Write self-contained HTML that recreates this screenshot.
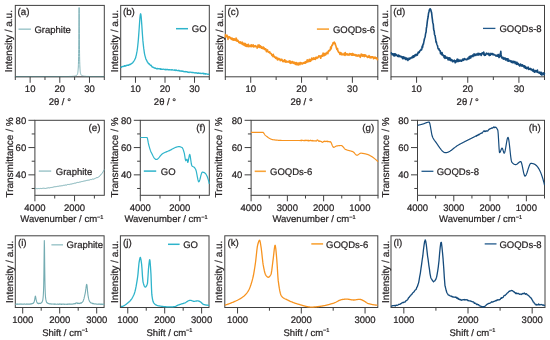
<!DOCTYPE html>
<html><head><meta charset="utf-8"><style>
html,body{margin:0;padding:0;background:#fff;}
svg{display:block;}
text{font-family:"Liberation Sans",sans-serif;fill:#231f20;stroke:#231f20;stroke-width:0.22px;text-rendering:geometricPrecision;}
svg{will-change:transform;}
</style></head><body>
<svg width="550" height="340" viewBox="0 0 550 340">
<rect width="550" height="340" fill="#fff"/>
<rect x="15.30" y="5.40" width="89.00" height="71.40" fill="none" stroke="#404040" stroke-width="1"/>
<line x1="30.13" y1="76.80" x2="30.13" y2="82.80" stroke="#404040" stroke-width="1" stroke-opacity="1"/>
<text transform="translate(30.13 91.90) scale(1.0 1.0)" text-anchor="middle" font-size="9.500" >10</text>
<line x1="59.80" y1="76.80" x2="59.80" y2="82.80" stroke="#404040" stroke-width="1" stroke-opacity="1"/>
<text transform="translate(59.80 91.90) scale(1.0 1.0)" text-anchor="middle" font-size="9.500" >20</text>
<line x1="89.47" y1="76.80" x2="89.47" y2="82.80" stroke="#404040" stroke-width="1" stroke-opacity="1"/>
<text transform="translate(89.47 91.90) scale(1.0 1.0)" text-anchor="middle" font-size="9.500" >30</text>
<line x1="15.30" y1="76.80" x2="15.30" y2="80.00" stroke="#404040" stroke-width="1" stroke-opacity="1"/>
<line x1="44.97" y1="76.80" x2="44.97" y2="80.00" stroke="#404040" stroke-width="1" stroke-opacity="1"/>
<line x1="74.63" y1="76.80" x2="74.63" y2="80.00" stroke="#404040" stroke-width="1" stroke-opacity="1"/>
<line x1="104.30" y1="76.80" x2="104.30" y2="80.00" stroke="#404040" stroke-width="1" stroke-opacity="1"/>
<text transform="translate(59.80 104.50) scale(1.0 1.0)" text-anchor="middle" font-size="9.500" >2θ / °</text>
<rect x="120.70" y="5.40" width="88.60" height="71.40" fill="none" stroke="#404040" stroke-width="1"/>
<line x1="135.47" y1="76.80" x2="135.47" y2="82.80" stroke="#404040" stroke-width="1" stroke-opacity="1"/>
<text transform="translate(135.47 91.90) scale(1.0 1.0)" text-anchor="middle" font-size="9.500" >10</text>
<line x1="165.00" y1="76.80" x2="165.00" y2="82.80" stroke="#404040" stroke-width="1" stroke-opacity="1"/>
<text transform="translate(165.00 91.90) scale(1.0 1.0)" text-anchor="middle" font-size="9.500" >20</text>
<line x1="194.53" y1="76.80" x2="194.53" y2="82.80" stroke="#404040" stroke-width="1" stroke-opacity="1"/>
<text transform="translate(194.53 91.90) scale(1.0 1.0)" text-anchor="middle" font-size="9.500" >30</text>
<line x1="120.70" y1="76.80" x2="120.70" y2="80.00" stroke="#404040" stroke-width="1" stroke-opacity="1"/>
<line x1="150.23" y1="76.80" x2="150.23" y2="80.00" stroke="#404040" stroke-width="1" stroke-opacity="1"/>
<line x1="179.77" y1="76.80" x2="179.77" y2="80.00" stroke="#404040" stroke-width="1" stroke-opacity="1"/>
<line x1="209.30" y1="76.80" x2="209.30" y2="80.00" stroke="#404040" stroke-width="1" stroke-opacity="1"/>
<text transform="translate(165.00 104.50) scale(1.0 1.0)" text-anchor="middle" font-size="9.500" >2θ / °</text>
<rect x="225.30" y="5.40" width="152.50" height="71.40" fill="none" stroke="#404040" stroke-width="1"/>
<line x1="250.72" y1="76.80" x2="250.72" y2="82.80" stroke="#404040" stroke-width="1" stroke-opacity="1"/>
<text transform="translate(250.72 91.90) scale(1.0 1.0)" text-anchor="middle" font-size="9.500" >10</text>
<line x1="301.55" y1="76.80" x2="301.55" y2="82.80" stroke="#404040" stroke-width="1" stroke-opacity="1"/>
<text transform="translate(301.55 91.90) scale(1.0 1.0)" text-anchor="middle" font-size="9.500" >20</text>
<line x1="352.38" y1="76.80" x2="352.38" y2="82.80" stroke="#404040" stroke-width="1" stroke-opacity="1"/>
<text transform="translate(352.38 91.90) scale(1.0 1.0)" text-anchor="middle" font-size="9.500" >30</text>
<line x1="225.30" y1="76.80" x2="225.30" y2="80.00" stroke="#404040" stroke-width="1" stroke-opacity="1"/>
<line x1="276.13" y1="76.80" x2="276.13" y2="80.00" stroke="#404040" stroke-width="1" stroke-opacity="1"/>
<line x1="326.97" y1="76.80" x2="326.97" y2="80.00" stroke="#404040" stroke-width="1" stroke-opacity="1"/>
<line x1="377.80" y1="76.80" x2="377.80" y2="80.00" stroke="#404040" stroke-width="1" stroke-opacity="1"/>
<text transform="translate(301.55 104.50) scale(1.0 1.0)" text-anchor="middle" font-size="9.500" >2θ / °</text>
<rect x="391.00" y="5.40" width="153.50" height="71.40" fill="none" stroke="#404040" stroke-width="1"/>
<line x1="416.58" y1="76.80" x2="416.58" y2="82.80" stroke="#404040" stroke-width="1" stroke-opacity="1"/>
<text transform="translate(416.58 91.90) scale(1.0 1.0)" text-anchor="middle" font-size="9.500" >10</text>
<line x1="467.75" y1="76.80" x2="467.75" y2="82.80" stroke="#404040" stroke-width="1" stroke-opacity="1"/>
<text transform="translate(467.75 91.90) scale(1.0 1.0)" text-anchor="middle" font-size="9.500" >20</text>
<line x1="518.92" y1="76.80" x2="518.92" y2="82.80" stroke="#404040" stroke-width="1" stroke-opacity="1"/>
<text transform="translate(518.92 91.90) scale(1.0 1.0)" text-anchor="middle" font-size="9.500" >30</text>
<line x1="391.00" y1="76.80" x2="391.00" y2="80.00" stroke="#404040" stroke-width="1" stroke-opacity="1"/>
<line x1="442.17" y1="76.80" x2="442.17" y2="80.00" stroke="#404040" stroke-width="1" stroke-opacity="1"/>
<line x1="493.33" y1="76.80" x2="493.33" y2="80.00" stroke="#404040" stroke-width="1" stroke-opacity="1"/>
<line x1="544.50" y1="76.80" x2="544.50" y2="80.00" stroke="#404040" stroke-width="1" stroke-opacity="1"/>
<text transform="translate(467.75 104.50) scale(1.0 1.0)" text-anchor="middle" font-size="9.500" >2θ / °</text>
<text transform="translate(12.00 41.20) rotate(-90) scale(1.0 1)" text-anchor="middle" font-size="10">Intensity / a.u.</text>
<text transform="translate(118.00 41.20) rotate(-90) scale(1.0 1)" text-anchor="middle" font-size="10">Intensity / a.u.</text>
<text transform="translate(222.80 41.20) rotate(-90) scale(1.0 1)" text-anchor="middle" font-size="10">Intensity / a.u.</text>
<text transform="translate(388.30 41.20) rotate(-90) scale(1.0 1)" text-anchor="middle" font-size="10">Intensity / a.u.</text>
<text transform="translate(17.50 14.70) scale(1.0 1.0)" text-anchor="start" font-size="9.800" >(a)</text>
<text transform="translate(122.90 14.70) scale(1.0 1.0)" text-anchor="start" font-size="9.800" >(b)</text>
<text transform="translate(227.50 14.70) scale(1.0 1.0)" text-anchor="start" font-size="9.800" >(c)</text>
<text transform="translate(393.20 14.70) scale(1.0 1.0)" text-anchor="start" font-size="9.800" >(d)</text>
<path d="M15.30,76.50 L15.35,76.50 L15.40,76.50 L15.45,76.50 L15.50,76.50 L15.55,76.50 L15.60,76.50 L15.65,76.50 L15.70,76.50 L15.75,76.50 L15.80,76.50 L15.85,76.50 L15.90,76.50 L15.95,76.50 L16.00,76.50 L16.05,76.50 L16.10,76.50 L16.15,76.50 L16.20,76.50 L16.25,76.50 L16.30,76.50 L16.35,76.50 L16.40,76.50 L16.45,76.50 L16.50,76.50 L16.55,76.50 L16.60,76.50 L16.65,76.50 L16.70,76.50 L16.75,76.50 L16.80,76.50 L16.85,76.50 L16.90,76.50 L16.95,76.50 L17.00,76.50 L17.05,76.50 L17.10,76.50 L17.15,76.50 L17.20,76.50 L17.25,76.50 L17.30,76.50 L17.35,76.50 L17.40,76.50 L17.45,76.50 L17.50,76.50 L17.55,76.50 L17.60,76.50 L17.65,76.50 L17.70,76.50 L17.75,76.50 L17.80,76.50 L17.85,76.50 L17.90,76.50 L17.95,76.50 L18.00,76.50 L18.05,76.50 L18.10,76.50 L18.15,76.50 L18.20,76.50 L18.25,76.50 L18.30,76.50 L18.35,76.50 L18.40,76.50 L18.45,76.50 L18.50,76.50 L18.55,76.50 L18.60,76.50 L18.65,76.50 L18.70,76.50 L18.75,76.50 L18.80,76.50 L18.85,76.50 L18.90,76.50 L18.95,76.50 L19.00,76.50 L19.05,76.50 L19.10,76.50 L19.15,76.50 L19.20,76.50 L19.25,76.50 L19.30,76.50 L19.35,76.50 L19.40,76.50 L19.45,76.50 L19.50,76.50 L19.55,76.50 L19.60,76.50 L19.65,76.50 L19.70,76.50 L19.75,76.50 L19.80,76.50 L19.85,76.50 L19.90,76.50 L19.95,76.50 L20.00,76.50 L20.05,76.50 L20.10,76.50 L20.15,76.50 L20.20,76.50 L20.25,76.50 L20.30,76.50 L20.35,76.50 L20.40,76.50 L20.45,76.50 L20.50,76.50 L20.55,76.50 L20.60,76.50 L20.65,76.50 L20.70,76.50 L20.75,76.50 L20.80,76.50 L20.85,76.50 L20.90,76.50 L20.95,76.50 L21.00,76.50 L21.05,76.50 L21.10,76.50 L21.15,76.50 L21.20,76.50 L21.25,76.50 L21.30,76.50 L21.35,76.50 L21.40,76.50 L21.45,76.50 L21.50,76.50 L21.55,76.50 L21.60,76.50 L21.65,76.50 L21.70,76.50 L21.75,76.50 L21.80,76.50 L21.85,76.50 L21.90,76.50 L21.95,76.50 L22.00,76.50 L22.05,76.50 L22.10,76.50 L22.15,76.50 L22.20,76.50 L22.25,76.50 L22.30,76.50 L22.35,76.50 L22.40,76.50 L22.45,76.50 L22.50,76.50 L22.55,76.50 L22.60,76.50 L22.65,76.50 L22.70,76.50 L22.75,76.50 L22.80,76.50 L22.85,76.50 L22.90,76.50 L22.95,76.50 L23.00,76.50 L23.05,76.50 L23.10,76.50 L23.15,76.50 L23.20,76.50 L23.25,76.50 L23.30,76.50 L23.35,76.50 L23.40,76.50 L23.45,76.50 L23.50,76.50 L23.55,76.50 L23.60,76.50 L23.65,76.50 L23.70,76.50 L23.75,76.50 L23.80,76.50 L23.85,76.50 L23.90,76.50 L23.95,76.50 L24.00,76.50 L24.05,76.50 L24.10,76.50 L24.15,76.50 L24.20,76.50 L24.25,76.50 L24.30,76.50 L24.35,76.50 L24.40,76.50 L24.45,76.50 L24.50,76.50 L24.55,76.50 L24.60,76.50 L24.65,76.50 L24.70,76.50 L24.75,76.50 L24.80,76.50 L24.85,76.50 L24.90,76.50 L24.95,76.50 L25.00,76.50 L25.05,76.50 L25.10,76.50 L25.15,76.50 L25.20,76.50 L25.25,76.50 L25.30,76.50 L25.35,76.50 L25.40,76.50 L25.45,76.50 L25.50,76.50 L25.55,76.50 L25.60,76.50 L25.65,76.50 L25.70,76.50 L25.75,76.50 L25.80,76.50 L25.85,76.50 L25.90,76.50 L25.95,76.50 L26.00,76.50 L26.05,76.50 L26.10,76.50 L26.15,76.50 L26.20,76.50 L26.25,76.50 L26.30,76.50 L26.35,76.50 L26.40,76.50 L26.45,76.50 L26.50,76.50 L26.55,76.50 L26.60,76.50 L26.65,76.50 L26.70,76.50 L26.75,76.50 L26.80,76.50 L26.85,76.50 L26.90,76.50 L26.95,76.50 L27.00,76.50 L27.05,76.50 L27.10,76.50 L27.15,76.50 L27.20,76.50 L27.25,76.50 L27.30,76.50 L27.35,76.50 L27.40,76.50 L27.45,76.50 L27.50,76.50 L27.55,76.50 L27.60,76.50 L27.65,76.50 L27.70,76.50 L27.75,76.50 L27.80,76.50 L27.85,76.50 L27.90,76.50 L27.95,76.50 L28.00,76.50 L28.05,76.50 L28.10,76.50 L28.15,76.50 L28.20,76.50 L28.25,76.50 L28.30,76.50 L28.35,76.50 L28.40,76.50 L28.45,76.50 L28.50,76.50 L28.55,76.50 L28.60,76.50 L28.65,76.50 L28.70,76.50 L28.75,76.50 L28.80,76.50 L28.85,76.50 L28.90,76.50 L28.95,76.50 L29.00,76.50 L29.05,76.50 L29.10,76.50 L29.15,76.50 L29.20,76.50 L29.25,76.50 L29.30,76.50 L29.35,76.50 L29.40,76.50 L29.45,76.50 L29.50,76.50 L29.55,76.50 L29.60,76.50 L29.65,76.50 L29.70,76.50 L29.75,76.50 L29.80,76.50 L29.85,76.50 L29.90,76.50 L29.95,76.50 L30.00,76.50 L30.05,76.50 L30.10,76.50 L30.15,76.50 L30.20,76.50 L30.25,76.50 L30.30,76.50 L30.35,76.50 L30.40,76.50 L30.45,76.50 L30.50,76.50 L30.55,76.50 L30.60,76.50 L30.65,76.50 L30.70,76.50 L30.75,76.50 L30.80,76.50 L30.85,76.50 L30.90,76.50 L30.95,76.50 L31.00,76.50 L31.05,76.50 L31.10,76.50 L31.15,76.50 L31.20,76.50 L31.25,76.50 L31.30,76.50 L31.35,76.50 L31.40,76.50 L31.45,76.50 L31.50,76.50 L31.55,76.50 L31.60,76.50 L31.65,76.50 L31.70,76.50 L31.75,76.50 L31.80,76.50 L31.85,76.50 L31.90,76.50 L31.95,76.50 L32.00,76.50 L32.05,76.50 L32.10,76.50 L32.15,76.50 L32.20,76.50 L32.25,76.50 L32.30,76.50 L32.35,76.50 L32.40,76.50 L32.45,76.50 L32.50,76.50 L32.55,76.50 L32.60,76.50 L32.65,76.50 L32.70,76.50 L32.75,76.50 L32.80,76.50 L32.85,76.50 L32.90,76.50 L32.95,76.50 L33.00,76.50 L33.05,76.50 L33.10,76.50 L33.15,76.50 L33.20,76.50 L33.25,76.50 L33.30,76.50 L33.35,76.50 L33.40,76.50 L33.45,76.50 L33.50,76.50 L33.55,76.50 L33.60,76.50 L33.65,76.50 L33.70,76.50 L33.75,76.50 L33.80,76.50 L33.85,76.50 L33.90,76.50 L33.95,76.50 L34.00,76.50 L34.05,76.50 L34.10,76.50 L34.15,76.50 L34.20,76.50 L34.25,76.50 L34.30,76.50 L34.35,76.50 L34.40,76.50 L34.45,76.50 L34.50,76.50 L34.55,76.50 L34.60,76.50 L34.65,76.50 L34.70,76.50 L34.75,76.50 L34.80,76.50 L34.85,76.50 L34.90,76.50 L34.95,76.50 L35.00,76.50 L35.05,76.50 L35.10,76.50 L35.15,76.50 L35.20,76.50 L35.25,76.50 L35.30,76.50 L35.35,76.50 L35.40,76.50 L35.45,76.50 L35.50,76.50 L35.55,76.50 L35.60,76.50 L35.65,76.50 L35.70,76.50 L35.75,76.50 L35.80,76.50 L35.85,76.50 L35.90,76.50 L35.95,76.50 L36.00,76.50 L36.05,76.50 L36.10,76.50 L36.15,76.50 L36.20,76.50 L36.25,76.50 L36.30,76.50 L36.35,76.50 L36.40,76.50 L36.45,76.50 L36.50,76.50 L36.55,76.50 L36.60,76.50 L36.65,76.50 L36.70,76.50 L36.75,76.50 L36.80,76.50 L36.85,76.50 L36.90,76.50 L36.95,76.50 L37.00,76.50 L37.05,76.50 L37.10,76.50 L37.15,76.50 L37.20,76.50 L37.25,76.50 L37.30,76.50 L37.35,76.50 L37.40,76.50 L37.45,76.50 L37.50,76.50 L37.55,76.50 L37.60,76.50 L37.65,76.50 L37.70,76.50 L37.75,76.50 L37.80,76.50 L37.85,76.50 L37.90,76.50 L37.95,76.50 L38.00,76.50 L38.05,76.50 L38.10,76.50 L38.15,76.50 L38.20,76.50 L38.25,76.50 L38.30,76.50 L38.35,76.50 L38.40,76.50 L38.45,76.50 L38.50,76.50 L38.55,76.50 L38.60,76.50 L38.65,76.50 L38.70,76.50 L38.75,76.50 L38.80,76.50 L38.85,76.50 L38.90,76.50 L38.95,76.50 L39.00,76.50 L39.05,76.50 L39.10,76.50 L39.15,76.50 L39.20,76.50 L39.25,76.50 L39.30,76.50 L39.35,76.50 L39.40,76.50 L39.45,76.50 L39.50,76.50 L39.55,76.50 L39.60,76.50 L39.65,76.50 L39.70,76.50 L39.75,76.50 L39.80,76.50 L39.85,76.50 L39.90,76.50 L39.95,76.50 L40.00,76.50 L40.05,76.50 L40.10,76.50 L40.15,76.50 L40.20,76.50 L40.25,76.50 L40.30,76.50 L40.35,76.50 L40.40,76.50 L40.45,76.50 L40.50,76.50 L40.55,76.50 L40.60,76.50 L40.65,76.50 L40.70,76.50 L40.75,76.50 L40.80,76.50 L40.85,76.50 L40.90,76.50 L40.95,76.50 L41.00,76.50 L41.05,76.50 L41.10,76.50 L41.15,76.50 L41.20,76.50 L41.25,76.50 L41.30,76.50 L41.35,76.50 L41.40,76.50 L41.45,76.50 L41.50,76.50 L41.55,76.49 L41.60,76.49 L41.65,76.49 L41.70,76.49 L41.75,76.49 L41.80,76.49 L41.85,76.49 L41.90,76.49 L41.95,76.49 L42.00,76.49 L42.05,76.49 L42.10,76.49 L42.15,76.49 L42.20,76.49 L42.25,76.49 L42.30,76.49 L42.35,76.49 L42.40,76.49 L42.45,76.49 L42.50,76.49 L42.55,76.49 L42.60,76.49 L42.65,76.49 L42.70,76.49 L42.75,76.49 L42.80,76.49 L42.85,76.49 L42.90,76.49 L42.95,76.49 L43.00,76.49 L43.05,76.49 L43.10,76.49 L43.15,76.49 L43.20,76.49 L43.25,76.49 L43.30,76.49 L43.35,76.49 L43.40,76.49 L43.45,76.49 L43.50,76.49 L43.55,76.49 L43.60,76.49 L43.65,76.49 L43.70,76.49 L43.75,76.49 L43.80,76.49 L43.85,76.49 L43.90,76.49 L43.95,76.49 L44.00,76.49 L44.05,76.49 L44.10,76.49 L44.15,76.49 L44.20,76.49 L44.25,76.49 L44.30,76.49 L44.35,76.49 L44.40,76.49 L44.45,76.49 L44.50,76.49 L44.55,76.49 L44.60,76.49 L44.65,76.49 L44.70,76.49 L44.75,76.49 L44.80,76.49 L44.85,76.49 L44.90,76.49 L44.95,76.49 L45.00,76.49 L45.05,76.49 L45.10,76.49 L45.15,76.49 L45.20,76.49 L45.25,76.49 L45.30,76.49 L45.35,76.49 L45.40,76.49 L45.45,76.49 L45.50,76.49 L45.55,76.49 L45.60,76.49 L45.65,76.49 L45.70,76.49 L45.75,76.49 L45.80,76.49 L45.85,76.49 L45.90,76.49 L45.95,76.49 L46.00,76.49 L46.05,76.49 L46.10,76.49 L46.15,76.49 L46.20,76.49 L46.25,76.49 L46.30,76.49 L46.35,76.49 L46.40,76.49 L46.45,76.49 L46.50,76.49 L46.55,76.49 L46.60,76.49 L46.65,76.49 L46.70,76.49 L46.75,76.49 L46.80,76.49 L46.85,76.49 L46.90,76.49 L46.95,76.49 L47.00,76.49 L47.05,76.49 L47.10,76.49 L47.15,76.49 L47.20,76.49 L47.25,76.49 L47.30,76.49 L47.35,76.49 L47.40,76.49 L47.45,76.49 L47.50,76.49 L47.55,76.49 L47.60,76.49 L47.65,76.49 L47.70,76.49 L47.75,76.49 L47.80,76.49 L47.85,76.49 L47.90,76.49 L47.95,76.49 L48.00,76.49 L48.05,76.49 L48.10,76.49 L48.15,76.49 L48.20,76.49 L48.25,76.49 L48.30,76.49 L48.35,76.49 L48.40,76.49 L48.45,76.49 L48.50,76.49 L48.55,76.49 L48.60,76.49 L48.65,76.49 L48.70,76.49 L48.75,76.49 L48.80,76.49 L48.85,76.49 L48.90,76.49 L48.95,76.49 L49.00,76.49 L49.05,76.49 L49.10,76.49 L49.15,76.49 L49.20,76.49 L49.25,76.49 L49.30,76.49 L49.35,76.49 L49.40,76.49 L49.45,76.49 L49.50,76.49 L49.55,76.49 L49.60,76.49 L49.65,76.49 L49.70,76.49 L49.75,76.49 L49.80,76.49 L49.85,76.49 L49.90,76.49 L49.95,76.49 L50.00,76.49 L50.05,76.49 L50.10,76.49 L50.15,76.49 L50.20,76.49 L50.25,76.49 L50.30,76.49 L50.35,76.49 L50.40,76.49 L50.45,76.49 L50.50,76.49 L50.55,76.49 L50.60,76.49 L50.65,76.49 L50.70,76.49 L50.75,76.49 L50.80,76.49 L50.85,76.49 L50.90,76.49 L50.95,76.49 L51.00,76.49 L51.05,76.49 L51.10,76.49 L51.15,76.49 L51.20,76.49 L51.25,76.49 L51.30,76.49 L51.35,76.49 L51.40,76.49 L51.45,76.49 L51.50,76.49 L51.55,76.49 L51.60,76.49 L51.65,76.49 L51.70,76.49 L51.75,76.49 L51.80,76.49 L51.85,76.49 L51.90,76.49 L51.95,76.49 L52.00,76.49 L52.05,76.49 L52.10,76.49 L52.15,76.49 L52.20,76.49 L52.25,76.49 L52.30,76.49 L52.35,76.49 L52.40,76.49 L52.45,76.49 L52.50,76.49 L52.55,76.49 L52.60,76.49 L52.65,76.49 L52.70,76.49 L52.75,76.49 L52.80,76.49 L52.85,76.49 L52.90,76.49 L52.95,76.49 L53.00,76.49 L53.05,76.49 L53.10,76.49 L53.15,76.49 L53.20,76.49 L53.25,76.49 L53.30,76.49 L53.35,76.49 L53.40,76.49 L53.45,76.49 L53.50,76.49 L53.55,76.49 L53.60,76.49 L53.65,76.49 L53.70,76.49 L53.75,76.49 L53.80,76.49 L53.85,76.49 L53.90,76.49 L53.95,76.49 L54.00,76.49 L54.05,76.49 L54.10,76.49 L54.15,76.49 L54.20,76.49 L54.25,76.49 L54.30,76.49 L54.35,76.49 L54.40,76.49 L54.45,76.49 L54.50,76.49 L54.55,76.49 L54.60,76.49 L54.65,76.49 L54.70,76.49 L54.75,76.49 L54.80,76.49 L54.85,76.49 L54.90,76.49 L54.95,76.49 L55.00,76.49 L55.05,76.49 L55.10,76.49 L55.15,76.49 L55.20,76.49 L55.25,76.49 L55.30,76.49 L55.35,76.49 L55.40,76.49 L55.45,76.49 L55.50,76.49 L55.55,76.49 L55.60,76.49 L55.65,76.49 L55.70,76.49 L55.75,76.49 L55.80,76.49 L55.85,76.49 L55.90,76.49 L55.95,76.49 L56.00,76.49 L56.05,76.49 L56.10,76.49 L56.15,76.49 L56.20,76.49 L56.25,76.49 L56.30,76.49 L56.35,76.49 L56.40,76.49 L56.45,76.49 L56.50,76.49 L56.55,76.49 L56.60,76.49 L56.65,76.49 L56.70,76.49 L56.75,76.49 L56.80,76.49 L56.85,76.49 L56.90,76.49 L56.95,76.49 L57.00,76.49 L57.05,76.49 L57.10,76.49 L57.15,76.49 L57.20,76.49 L57.25,76.49 L57.30,76.49 L57.35,76.49 L57.40,76.48 L57.45,76.48 L57.50,76.48 L57.55,76.48 L57.60,76.48 L57.65,76.48 L57.70,76.48 L57.75,76.48 L57.80,76.48 L57.85,76.48 L57.90,76.48 L57.95,76.48 L58.00,76.48 L58.05,76.48 L58.10,76.48 L58.15,76.48 L58.20,76.48 L58.25,76.48 L58.30,76.48 L58.35,76.48 L58.40,76.48 L58.45,76.48 L58.50,76.48 L58.55,76.48 L58.60,76.48 L58.65,76.48 L58.70,76.48 L58.75,76.48 L58.80,76.48 L58.85,76.48 L58.90,76.48 L58.95,76.48 L59.00,76.48 L59.05,76.48 L59.10,76.48 L59.15,76.48 L59.20,76.48 L59.25,76.48 L59.30,76.48 L59.35,76.48 L59.40,76.48 L59.45,76.48 L59.50,76.48 L59.55,76.48 L59.60,76.48 L59.65,76.48 L59.70,76.48 L59.75,76.48 L59.80,76.48 L59.85,76.48 L59.90,76.48 L59.95,76.48 L60.00,76.48 L60.00,76.48 L60.05,76.48 L60.10,76.48 L60.15,76.48 L60.20,76.48 L60.25,76.48 L60.30,76.48 L60.35,76.48 L60.40,76.48 L60.45,76.48 L60.50,76.48 L60.55,76.48 L60.60,76.48 L60.65,76.48 L60.70,76.48 L60.75,76.48 L60.80,76.48 L60.85,76.48 L60.90,76.48 L60.95,76.48 L61.00,76.48 L61.05,76.48 L61.10,76.48 L61.15,76.48 L61.20,76.48 L61.25,76.48 L61.30,76.48 L61.35,76.48 L61.40,76.48 L61.45,76.48 L61.50,76.48 L61.55,76.48 L61.60,76.48 L61.65,76.48 L61.70,76.48 L61.75,76.48 L61.80,76.48 L61.85,76.48 L61.90,76.48 L61.95,76.48 L62.00,76.48 L62.05,76.48 L62.10,76.48 L62.15,76.48 L62.20,76.48 L62.25,76.48 L62.30,76.47 L62.35,76.47 L62.40,76.47 L62.45,76.47 L62.50,76.47 L62.55,76.47 L62.60,76.47 L62.65,76.47 L62.70,76.47 L62.75,76.47 L62.80,76.47 L62.85,76.47 L62.90,76.47 L62.95,76.47 L63.00,76.47 L63.05,76.47 L63.10,76.47 L63.15,76.47 L63.20,76.47 L63.25,76.47 L63.30,76.47 L63.35,76.47 L63.40,76.47 L63.45,76.47 L63.50,76.47 L63.55,76.47 L63.60,76.47 L63.65,76.47 L63.70,76.47 L63.75,76.47 L63.80,76.47 L63.85,76.47 L63.90,76.47 L63.95,76.47 L64.00,76.47 L64.05,76.47 L64.10,76.47 L64.15,76.47 L64.20,76.47 L64.25,76.47 L64.30,76.47 L64.35,76.47 L64.40,76.47 L64.45,76.47 L64.50,76.47 L64.55,76.47 L64.60,76.47 L64.65,76.47 L64.70,76.47 L64.75,76.47 L64.80,76.47 L64.85,76.47 L64.90,76.46 L64.95,76.46 L65.00,76.46 L65.05,76.46 L65.10,76.46 L65.15,76.46 L65.20,76.46 L65.25,76.46 L65.30,76.46 L65.35,76.46 L65.40,76.46 L65.45,76.46 L65.50,76.46 L65.55,76.46 L65.60,76.46 L65.65,76.46 L65.70,76.46 L65.75,76.46 L65.80,76.46 L65.85,76.46 L65.90,76.46 L65.95,76.46 L66.00,76.46 L66.05,76.46 L66.10,76.46 L66.15,76.46 L66.20,76.46 L66.25,76.46 L66.30,76.46 L66.35,76.46 L66.40,76.46 L66.45,76.46 L66.50,76.46 L66.55,76.46 L66.60,76.45 L66.65,76.45 L66.70,76.45 L66.75,76.45 L66.80,76.45 L66.85,76.45 L66.90,76.45 L66.95,76.45 L67.00,76.45 L67.05,76.45 L67.10,76.45 L67.15,76.45 L67.20,76.45 L67.25,76.45 L67.30,76.45 L67.35,76.45 L67.40,76.45 L67.45,76.45 L67.50,76.45 L67.55,76.45 L67.60,76.45 L67.65,76.45 L67.70,76.45 L67.75,76.45 L67.80,76.44 L67.85,76.44 L67.90,76.44 L67.95,76.44 L68.00,76.44 L68.05,76.44 L68.10,76.44 L68.15,76.44 L68.20,76.44 L68.25,76.44 L68.30,76.44 L68.35,76.44 L68.40,76.44 L68.45,76.44 L68.50,76.44 L68.55,76.44 L68.60,76.44 L68.65,76.44 L68.70,76.43 L68.75,76.43 L68.80,76.43 L68.85,76.43 L68.90,76.43 L68.95,76.43 L69.00,76.43 L69.05,76.43 L69.10,76.43 L69.15,76.43 L69.20,76.43 L69.25,76.43 L69.30,76.43 L69.35,76.43 L69.40,76.42 L69.45,76.42 L69.50,76.42 L69.55,76.42 L69.60,76.42 L69.65,76.42 L69.70,76.42 L69.75,76.42 L69.80,76.42 L69.85,76.42 L69.90,76.42 L69.95,76.42 L70.00,76.41 L70.05,76.41 L70.10,76.41 L70.15,76.41 L70.20,76.41 L70.25,76.41 L70.30,76.41 L70.35,76.41 L70.40,76.41 L70.45,76.41 L70.50,76.40 L70.55,76.40 L70.60,76.40 L70.65,76.40 L70.70,76.40 L70.75,76.40 L70.80,76.40 L70.85,76.40 L70.90,76.40 L70.95,76.39 L71.00,76.39 L71.05,76.39 L71.10,76.39 L71.15,76.39 L71.20,76.39 L71.25,76.39 L71.30,76.38 L71.35,76.38 L71.40,76.38 L71.45,76.38 L71.50,76.38 L71.55,76.38 L71.60,76.37 L71.65,76.37 L71.70,76.37 L71.75,76.37 L71.80,76.37 L71.85,76.37 L71.90,76.36 L71.95,76.36 L72.00,76.36 L72.05,76.36 L72.10,76.36 L72.15,76.35 L72.20,76.35 L72.25,76.35 L72.30,76.35 L72.35,76.35 L72.40,76.34 L72.45,76.34 L72.50,76.34 L72.55,76.34 L72.60,76.33 L72.65,76.33 L72.70,76.33 L72.75,76.33 L72.80,76.32 L72.85,76.32 L72.90,76.32 L72.95,76.31 L73.00,76.31 L73.05,76.31 L73.10,76.30 L73.15,76.30 L73.20,76.30 L73.25,76.29 L73.30,76.29 L73.35,76.29 L73.40,76.28 L73.45,76.28 L73.50,76.28 L73.55,76.27 L73.60,76.27 L73.65,76.26 L73.70,76.26 L73.75,76.25 L73.80,76.25 L73.85,76.24 L73.90,76.24 L73.95,76.23 L74.00,76.23 L74.05,76.22 L74.10,76.22 L74.15,76.21 L74.20,76.21 L74.25,76.20 L74.30,76.19 L74.35,76.19 L74.40,76.18 L74.45,76.17 L74.50,76.17 L74.55,76.16 L74.60,76.15 L74.65,76.15 L74.70,76.14 L74.75,76.13 L74.80,76.12 L74.85,76.11 L74.90,76.10 L74.95,76.09 L75.00,76.08 L75.05,76.07 L75.10,76.06 L75.15,76.05 L75.20,76.04 L75.25,76.03 L75.30,76.01 L75.35,76.00 L75.40,75.99 L75.45,75.97 L75.50,75.96 L75.55,75.94 L75.60,75.93 L75.65,75.91 L75.70,75.89 L75.75,75.88 L75.80,75.86 L75.85,75.84 L75.90,75.82 L75.95,75.80 L76.00,75.77 L76.05,75.75 L76.10,75.72 L76.15,75.70 L76.20,75.67 L76.25,75.64 L76.30,75.61 L76.35,75.58 L76.40,75.54 L76.45,75.51 L76.50,75.47 L76.55,75.43 L76.60,75.39 L76.65,75.34 L76.70,75.29 L76.75,75.24 L76.80,75.19 L76.85,75.13 L76.90,75.07 L76.95,75.00 L77.00,74.93 L77.05,74.86 L77.10,74.78 L77.15,74.69 L77.20,74.60 L77.25,74.50 L77.30,74.39 L77.35,74.27 L77.40,74.14 L77.45,74.00 L77.50,73.85 L77.55,73.68 L77.60,73.50 L77.65,73.30 L77.70,73.07 L77.75,72.83 L77.80,72.56 L77.85,72.26 L77.90,71.92 L77.95,71.54 L78.00,71.12 L78.05,70.64 L78.10,70.09 L78.15,69.47 L78.20,68.76 L78.25,67.93 L78.30,66.98 L78.35,65.87 L78.40,64.57 L78.45,63.04 L78.50,61.22 L78.55,59.05 L78.60,56.45 L78.65,53.33 L78.70,49.57 L78.75,45.08 L78.80,39.78 L78.85,33.65 L78.90,26.88 L78.95,19.93 L79.00,13.64 L79.05,9.14 L79.10,7.50 L79.15,9.14 L79.20,13.64 L79.25,19.93 L79.30,26.88 L79.35,33.65 L79.40,39.78 L79.45,45.08 L79.50,49.57 L79.55,53.33 L79.60,56.45 L79.65,59.05 L79.70,61.22 L79.75,63.04 L79.80,64.57 L79.85,65.87 L79.90,66.98 L79.95,67.93 L80.00,68.76 L80.05,69.47 L80.10,70.09 L80.15,70.64 L80.20,71.12 L80.25,71.54 L80.30,71.92 L80.35,72.26 L80.40,72.56 L80.45,72.83 L80.50,73.07 L80.55,73.30 L80.60,73.50 L80.65,73.68 L80.70,73.85 L80.75,74.00 L80.80,74.14 L80.85,74.27 L80.90,74.39 L80.95,74.50 L81.00,74.60 L81.05,74.69 L81.10,74.78 L81.15,74.86 L81.20,74.93 L81.25,75.00 L81.30,75.07 L81.35,75.13 L81.40,75.19 L81.45,75.24 L81.50,75.29 L81.55,75.34 L81.60,75.39 L81.65,75.43 L81.70,75.47 L81.75,75.51 L81.80,75.54 L81.85,75.58 L81.90,75.61 L81.95,75.64 L82.00,75.67 L82.05,75.70 L82.10,75.72 L82.15,75.75 L82.20,75.77 L82.25,75.80 L82.30,75.82 L82.35,75.84 L82.40,75.86 L82.45,75.88 L82.50,75.89 L82.55,75.91 L82.60,75.93 L82.65,75.94 L82.70,75.96 L82.75,75.97 L82.80,75.99 L82.85,76.00 L82.90,76.01 L82.95,76.03 L83.00,76.04 L83.05,76.05 L83.10,76.06 L83.15,76.07 L83.20,76.08 L83.25,76.09 L83.30,76.10 L83.35,76.11 L83.40,76.12 L83.45,76.13 L83.50,76.14 L83.55,76.15 L83.60,76.15 L83.65,76.16 L83.70,76.17 L83.75,76.17 L83.80,76.18 L83.85,76.19 L83.90,76.19 L83.95,76.20 L84.00,76.21 L84.05,76.21 L84.10,76.22 L84.15,76.22 L84.20,76.23 L84.25,76.23 L84.30,76.24 L84.35,76.24 L84.40,76.25 L84.45,76.25 L84.50,76.26 L84.55,76.26 L84.60,76.27 L84.65,76.27 L84.70,76.28 L84.75,76.28 L84.80,76.28 L84.85,76.29 L84.90,76.29 L84.95,76.29 L85.00,76.30 L85.05,76.30 L85.10,76.30 L85.15,76.31 L85.20,76.31 L85.25,76.31 L85.30,76.32 L85.35,76.32 L85.40,76.32 L85.45,76.33 L85.50,76.33 L85.55,76.33 L85.60,76.33 L85.65,76.34 L85.70,76.34 L85.75,76.34 L85.80,76.34 L85.85,76.35 L85.90,76.35 L85.95,76.35 L86.00,76.35 L86.05,76.35 L86.10,76.36 L86.15,76.36 L86.20,76.36 L86.25,76.36 L86.30,76.36 L86.35,76.37 L86.40,76.37 L86.45,76.37 L86.50,76.37 L86.55,76.37 L86.60,76.37 L86.65,76.38 L86.70,76.38 L86.75,76.38 L86.80,76.38 L86.85,76.38 L86.90,76.38 L86.95,76.39 L87.00,76.39 L87.05,76.39 L87.10,76.39 L87.15,76.39 L87.20,76.39 L87.25,76.39 L87.30,76.40 L87.35,76.40 L87.40,76.40 L87.45,76.40 L87.50,76.40 L87.55,76.40 L87.60,76.40 L87.65,76.40 L87.70,76.40 L87.75,76.41 L87.80,76.41 L87.85,76.41 L87.90,76.41 L87.95,76.41 L88.00,76.41 L88.05,76.41 L88.10,76.41 L88.15,76.41 L88.20,76.41 L88.25,76.42 L88.30,76.42 L88.35,76.42 L88.40,76.42 L88.45,76.42 L88.50,76.42 L88.55,76.42 L88.60,76.42 L88.65,76.42 L88.70,76.42 L88.75,76.42 L88.80,76.42 L88.85,76.43 L88.90,76.43 L88.95,76.43 L89.00,76.43 L89.05,76.43 L89.10,76.43 L89.15,76.43 L89.20,76.43 L89.25,76.43 L89.30,76.43 L89.35,76.43 L89.40,76.43 L89.45,76.43 L89.50,76.43 L89.55,76.44 L89.60,76.44 L89.65,76.44 L89.70,76.44 L89.75,76.44 L89.80,76.44 L89.85,76.44 L89.90,76.44 L89.95,76.44 L90.00,76.44 L90.05,76.44 L90.10,76.44 L90.15,76.44 L90.20,76.44 L90.25,76.44 L90.30,76.44 L90.35,76.44 L90.40,76.44 L90.45,76.45 L90.50,76.45 L90.55,76.45 L90.60,76.45 L90.65,76.45 L90.70,76.45 L90.75,76.45 L90.80,76.45 L90.85,76.45 L90.90,76.45 L90.95,76.45 L91.00,76.45 L91.05,76.45 L91.10,76.45 L91.15,76.45 L91.20,76.45 L91.25,76.45 L91.30,76.45 L91.35,76.45 L91.40,76.45 L91.45,76.45 L91.50,76.45 L91.55,76.45 L91.60,76.45 L91.65,76.46 L91.70,76.46 L91.75,76.46 L91.80,76.46 L91.85,76.46 L91.90,76.46 L91.95,76.46 L92.00,76.46 L92.05,76.46 L92.10,76.46 L92.15,76.46 L92.20,76.46 L92.25,76.46 L92.30,76.46 L92.35,76.46 L92.40,76.46 L92.45,76.46 L92.50,76.46 L92.55,76.46 L92.60,76.46 L92.65,76.46 L92.70,76.46 L92.75,76.46 L92.80,76.46 L92.85,76.46 L92.90,76.46 L92.95,76.46 L93.00,76.46 L93.05,76.46 L93.10,76.46 L93.15,76.46 L93.20,76.46 L93.25,76.46 L93.30,76.46 L93.35,76.47 L93.40,76.47 L93.45,76.47 L93.50,76.47 L93.55,76.47 L93.60,76.47 L93.65,76.47 L93.70,76.47 L93.75,76.47 L93.80,76.47 L93.85,76.47 L93.90,76.47 L93.95,76.47 L94.00,76.47 L94.05,76.47 L94.10,76.47 L94.15,76.47 L94.20,76.47 L94.25,76.47 L94.30,76.47 L94.35,76.47 L94.40,76.47 L94.45,76.47 L94.50,76.47 L94.55,76.47 L94.60,76.47 L94.65,76.47 L94.70,76.47 L94.75,76.47 L94.80,76.47 L94.85,76.47 L94.90,76.47 L94.95,76.47 L95.00,76.47 L95.05,76.47 L95.10,76.47 L95.15,76.47 L95.20,76.47 L95.25,76.47 L95.30,76.47 L95.35,76.47 L95.40,76.47 L95.45,76.47 L95.50,76.47 L95.55,76.47 L95.60,76.47 L95.65,76.47 L95.70,76.47 L95.75,76.47 L95.80,76.47 L95.85,76.47 L95.90,76.47 L95.95,76.48 L96.00,76.48 L96.05,76.48 L96.10,76.48 L96.15,76.48 L96.20,76.48 L96.25,76.48 L96.30,76.48 L96.35,76.48 L96.40,76.48 L96.45,76.48 L96.50,76.48 L96.55,76.48 L96.60,76.48 L96.65,76.48 L96.70,76.48 L96.75,76.48 L96.80,76.48 L96.85,76.48 L96.90,76.48 L96.95,76.48 L97.00,76.48 L97.05,76.48 L97.10,76.48 L97.15,76.48 L97.20,76.48 L97.25,76.48 L97.30,76.48 L97.35,76.48 L97.40,76.48 L97.45,76.48 L97.50,76.48 L97.55,76.48 L97.60,76.48 L97.65,76.48 L97.70,76.48 L97.75,76.48 L97.80,76.48 L97.85,76.48 L97.90,76.48 L97.95,76.48 L98.00,76.48 L98.05,76.48 L98.10,76.48 L98.15,76.48 L98.20,76.48 L98.25,76.48 L98.30,76.48 L98.35,76.48 L98.40,76.48 L98.45,76.48 L98.50,76.48 L98.55,76.48 L98.60,76.48 L98.65,76.48 L98.70,76.48 L98.75,76.48 L98.80,76.48 L98.85,76.48 L98.90,76.48 L98.95,76.48 L99.00,76.48 L99.05,76.48 L99.10,76.48 L99.15,76.48 L99.20,76.48 L99.25,76.48 L99.30,76.48 L99.35,76.48 L99.40,76.48 L99.45,76.48 L99.50,76.48 L99.55,76.48 L99.60,76.48 L99.65,76.48 L99.70,76.48 L99.75,76.48 L99.80,76.48 L99.85,76.48 L99.90,76.48 L99.95,76.48 L100.00,76.48 L100.05,76.48 L100.10,76.48 L100.15,76.48 L100.20,76.48 L100.25,76.48 L100.30,76.48 L100.35,76.48 L100.40,76.48 L100.45,76.48 L100.50,76.48 L100.55,76.48 L100.60,76.48 L100.65,76.48 L100.70,76.48 L100.75,76.48 L100.80,76.48 L100.85,76.49 L100.90,76.49 L100.95,76.49 L101.00,76.49 L101.05,76.49 L101.10,76.49 L101.15,76.49 L101.20,76.49 L101.25,76.49 L101.30,76.49 L101.35,76.49 L101.40,76.49 L101.45,76.49 L101.50,76.49 L101.55,76.49 L101.60,76.49 L101.65,76.49 L101.70,76.49 L101.75,76.49 L101.80,76.49 L101.85,76.49 L101.90,76.49 L101.95,76.49 L102.00,76.49 L102.05,76.49 L102.10,76.49 L102.15,76.49 L102.20,76.49 L102.25,76.49 L102.30,76.49 L102.35,76.49 L102.40,76.49 L102.45,76.49 L102.50,76.49 L102.55,76.49 L102.60,76.49 L102.65,76.49 L102.70,76.49 L102.75,76.49 L102.80,76.49 L102.85,76.49 L102.90,76.49 L102.95,76.49 L103.00,76.49 L103.05,76.49 L103.10,76.49 L103.15,76.49 L103.20,76.49 L103.25,76.49 L103.30,76.49 L103.35,76.49 L103.40,76.49 L103.45,76.49 L103.50,76.49 L103.55,76.49 L103.60,76.49 L103.65,76.49 L103.70,76.49 L103.75,76.49 L103.80,76.49 L103.85,76.49 L103.90,76.49 L103.95,76.49 L104.00,76.49 L104.05,76.49 L104.10,76.49 L104.15,76.49 L104.20,76.49 L104.25,76.49 L104.30,76.49 L104.30,76.49" fill="none" stroke="#74acb2" stroke-width="0.9" stroke-linejoin="round"/>
<line x1="15.30" y1="76.80" x2="104.30" y2="76.80" stroke="#404040" stroke-width="1" stroke-opacity="0.45"/>
<line x1="18.50" y1="29.20" x2="30.90" y2="29.20" stroke="#a6cbcf" stroke-width="1.6" stroke-opacity="1"/>
<text transform="translate(34.40 32.80) scale(1.0 1.0)" text-anchor="start" font-size="9.500" >Graphite</text>
<path d="M120.70,67.37 L121.00,67.49 L121.30,66.73 L121.60,67.31 L121.90,66.86 L122.20,66.60 L122.50,66.50 L122.80,66.34 L123.10,66.41 L123.40,66.52 L123.70,66.37 L124.00,66.29 L124.30,65.73 L124.60,65.67 L124.90,66.21 L125.20,66.01 L125.50,66.18 L125.80,65.91 L126.10,65.40 L126.20,65.84 L126.40,65.66 L126.70,65.51 L127.00,65.24 L127.30,65.33 L127.60,65.22 L127.90,65.34 L128.20,65.10 L128.50,65.30 L128.80,64.73 L129.10,64.88 L129.40,64.77 L129.70,64.38 L130.00,64.19 L130.30,64.49 L130.60,64.24 L130.90,63.95 L131.20,63.89 L131.40,63.55 L131.50,63.67 L131.80,63.29 L132.10,63.22 L132.40,63.13 L132.70,62.59 L133.00,62.52 L133.30,61.81 L133.60,61.58 L133.90,60.94 L134.20,60.72 L134.50,60.22 L134.80,59.56 L135.10,58.86 L135.40,58.40 L135.70,57.52 L136.00,55.96 L136.30,55.24 L136.60,53.29 L136.90,51.88 L137.20,50.13 L137.50,48.01 L137.80,45.24 L138.10,42.36 L138.40,39.14 L138.70,35.16 L139.00,30.96 L139.30,26.77 L139.60,22.41 L139.90,18.28 L140.20,15.36 L140.50,13.90 L140.60,13.71 L140.80,14.10 L141.10,15.99 L141.40,19.66 L141.70,23.67 L142.00,28.13 L142.30,32.61 L142.60,36.79 L142.90,40.67 L143.20,43.58 L143.50,46.38 L143.80,48.94 L144.10,50.83 L144.40,53.05 L144.70,54.54 L145.00,55.84 L145.30,56.84 L145.60,58.04 L145.90,58.99 L146.20,59.67 L146.50,60.21 L146.80,60.55 L147.10,61.63 L147.40,61.87 L147.70,62.22 L148.00,62.98 L148.30,63.24 L148.60,63.23 L148.90,63.80 L148.90,63.77 L149.20,64.31 L149.50,64.02 L149.80,64.60 L150.10,64.92 L150.40,65.49 L150.70,65.25 L151.00,65.13 L151.30,65.68 L151.60,66.25 L151.90,66.59 L152.20,66.99 L152.50,66.94 L152.80,66.91 L153.10,67.44 L153.40,67.45 L153.70,67.58 L154.00,67.78 L154.30,68.18 L154.60,67.88 L154.90,67.97 L155.20,68.26 L155.50,68.35 L155.60,68.22 L155.80,68.25 L156.10,68.56 L156.40,68.81 L156.70,68.74 L157.00,68.79 L157.30,68.95 L157.60,68.35 L157.90,68.49 L158.20,68.69 L158.50,68.63 L158.80,68.71 L159.10,68.96 L159.40,68.72 L159.70,68.92 L160.00,68.63 L160.30,68.87 L160.60,69.36 L160.90,69.01 L161.20,69.21 L161.50,69.31 L161.80,69.10 L162.10,69.34 L162.40,69.29 L162.70,69.41 L163.00,69.16 L163.30,69.03 L163.60,69.13 L163.90,69.25 L164.20,69.49 L164.50,69.37 L164.70,69.34 L164.80,69.39 L165.10,69.67 L165.40,69.36 L165.70,69.80 L166.00,69.27 L166.30,69.42 L166.60,69.73 L166.90,69.69 L167.20,69.43 L167.50,69.60 L167.80,69.50 L168.10,69.84 L168.40,69.79 L168.70,69.56 L169.00,69.81 L169.30,69.67 L169.60,69.75 L169.90,69.80 L170.20,69.69 L170.50,69.91 L170.80,69.94 L171.10,69.96 L171.40,70.11 L171.70,69.86 L172.00,69.64 L172.30,69.86 L172.60,70.02 L172.90,70.01 L173.20,70.14 L173.50,70.21 L173.80,70.05 L174.10,70.08 L174.40,69.93 L174.70,70.36 L174.80,70.11 L175.00,69.96 L175.30,69.99 L175.60,70.16 L175.90,70.59 L176.20,70.47 L176.50,70.02 L176.80,70.38 L177.10,70.50 L177.40,70.63 L177.70,70.62 L178.00,70.47 L178.30,70.74 L178.60,70.60 L178.90,70.31 L179.20,70.68 L179.50,70.74 L179.80,71.12 L180.10,71.20 L180.40,70.83 L180.70,71.13 L181.00,71.17 L181.30,70.92 L181.60,70.85 L181.90,71.29 L182.20,71.39 L182.50,71.29 L182.80,70.92 L183.10,71.50 L183.40,71.43 L183.70,71.41 L183.80,71.54 L184.00,71.40 L184.30,71.78 L184.60,71.70 L184.90,71.63 L185.20,71.83 L185.50,71.80 L185.80,71.54 L186.10,71.85 L186.40,71.82 L186.70,71.60 L187.00,71.85 L187.30,72.10 L187.60,71.92 L187.90,72.36 L188.20,72.45 L188.50,72.08 L188.80,72.28 L189.10,72.60 L189.40,72.17 L189.70,72.08 L190.00,72.21 L190.30,72.05 L190.60,72.08 L190.90,72.43 L191.20,72.33 L191.50,72.49 L191.80,72.57 L192.10,72.35 L192.40,72.49 L192.70,72.51 L193.00,72.46 L193.30,72.46 L193.60,72.72 L193.90,72.66 L194.20,72.78 L194.50,72.94 L194.80,72.98 L195.10,72.58 L195.10,72.63 L195.40,72.79 L195.70,72.89 L196.00,73.09 L196.30,72.74 L196.60,72.87 L196.90,73.04 L197.20,73.27 L197.50,73.33 L197.80,72.88 L198.10,73.07 L198.40,72.98 L198.70,73.35 L199.00,73.30 L199.30,73.17 L199.60,73.15 L199.90,73.36 L200.20,73.53 L200.50,73.21 L200.80,73.33 L201.10,73.44 L201.40,73.45 L201.70,73.55 L202.00,73.31 L202.30,73.42 L202.60,73.15 L202.90,73.61 L203.20,73.85 L203.50,73.25 L203.80,73.57 L204.10,73.90 L204.40,73.73 L204.70,73.40 L205.00,74.05 L205.30,73.56 L205.60,74.15 L205.90,73.79 L206.20,73.79 L206.50,73.97 L206.80,73.99 L207.10,74.14 L207.40,74.15 L207.70,74.05 L208.00,74.38 L208.30,74.28 L208.60,74.23 L208.90,74.23 L209.20,74.21 L209.30,74.23" fill="none" stroke="#2eb4cb" stroke-width="1.3" stroke-linejoin="round"/>
<line x1="176.00" y1="28.70" x2="188.00" y2="28.70" stroke="#2eb4cb" stroke-width="1.5" stroke-opacity="1"/>
<text transform="translate(191.80 32.30) scale(1.0 1.0)" text-anchor="start" font-size="9.500" >GO</text>
<path d="M225.30,37.73 L225.60,34.59 L225.90,36.75 L226.20,36.14 L226.50,36.30 L226.80,36.55 L227.10,35.38 L227.40,36.72 L227.70,36.36 L228.00,39.39 L228.30,37.31 L228.60,37.00 L228.90,37.15 L229.20,36.98 L229.50,36.81 L229.80,37.38 L230.10,38.09 L230.40,37.70 L230.70,38.64 L231.00,37.94 L231.30,38.21 L231.60,39.38 L231.90,38.80 L232.20,38.18 L232.50,38.52 L232.80,39.14 L233.10,40.24 L233.40,38.81 L233.70,38.95 L234.00,39.95 L234.30,38.75 L234.60,39.29 L234.90,40.23 L235.20,40.15 L235.50,39.93 L235.80,40.47 L236.10,38.15 L236.40,40.97 L236.50,39.63 L236.70,39.22 L237.00,40.73 L237.30,41.18 L237.60,40.54 L237.90,40.27 L238.20,41.22 L238.50,41.35 L238.80,42.56 L239.10,42.29 L239.40,42.10 L239.70,42.94 L240.00,42.22 L240.30,41.92 L240.60,43.18 L240.90,43.38 L241.20,43.02 L241.50,42.81 L241.80,43.71 L242.10,41.99 L242.40,44.39 L242.70,44.43 L243.00,43.10 L243.30,44.44 L243.60,43.86 L243.90,45.20 L244.20,43.36 L244.50,44.25 L244.80,45.48 L245.10,45.87 L245.30,43.59 L245.40,44.77 L245.70,45.40 L246.00,44.80 L246.30,46.39 L246.60,44.49 L246.90,45.61 L247.20,44.67 L247.50,46.43 L247.80,45.47 L248.10,45.26 L248.40,44.36 L248.70,46.77 L249.00,46.15 L249.30,46.19 L249.60,46.48 L249.90,45.96 L250.20,45.30 L250.50,45.21 L250.80,45.24 L251.10,46.79 L251.40,44.83 L251.70,45.46 L252.00,45.68 L252.30,46.09 L252.60,46.37 L252.90,45.12 L253.20,44.81 L253.50,46.05 L253.80,46.93 L254.00,46.63 L254.10,46.26 L254.40,45.92 L254.70,46.37 L255.00,46.02 L255.30,46.79 L255.60,45.68 L255.90,46.36 L256.20,46.21 L256.50,46.68 L256.80,46.48 L257.10,48.13 L257.40,47.41 L257.70,47.44 L258.00,44.98 L258.30,46.20 L258.60,46.03 L258.90,46.86 L259.20,44.92 L259.50,47.37 L259.80,47.33 L260.10,45.71 L260.40,45.97 L260.70,46.14 L261.00,46.78 L261.30,47.25 L261.30,48.23 L261.60,46.73 L261.90,47.50 L262.20,47.20 L262.50,48.47 L262.80,47.92 L263.10,48.55 L263.40,47.03 L263.70,47.86 L264.00,47.65 L264.30,49.49 L264.60,49.13 L264.90,48.68 L265.20,48.80 L265.50,49.67 L265.60,48.91 L265.80,48.89 L266.10,50.10 L266.40,51.72 L266.70,50.06 L267.00,50.09 L267.30,49.92 L267.60,50.07 L267.90,51.63 L268.20,52.13 L268.50,51.82 L268.80,52.32 L269.10,52.45 L269.40,52.74 L269.70,51.85 L270.00,52.87 L270.30,53.54 L270.60,53.18 L270.90,53.65 L271.20,53.66 L271.50,54.25 L271.80,55.32 L272.10,54.66 L272.40,55.06 L272.70,55.94 L272.90,55.95 L273.00,56.75 L273.30,54.29 L273.60,56.54 L273.90,55.79 L274.20,56.41 L274.50,57.08 L274.80,57.43 L275.10,57.58 L275.40,57.14 L275.70,58.33 L276.00,57.18 L276.30,57.45 L276.60,58.28 L276.90,57.50 L277.20,59.56 L277.50,58.92 L277.80,59.89 L278.10,58.50 L278.40,58.41 L278.70,58.94 L279.00,59.48 L279.30,58.70 L279.60,59.52 L279.90,59.38 L280.20,60.65 L280.50,59.19 L280.80,60.51 L281.10,59.45 L281.40,59.34 L281.70,59.63 L282.00,59.40 L282.30,60.44 L282.60,61.16 L282.90,60.65 L283.10,61.04 L283.20,61.77 L283.50,60.91 L283.80,60.95 L284.10,60.71 L284.40,59.86 L284.70,61.61 L285.00,59.93 L285.30,61.70 L285.60,61.32 L285.90,62.20 L286.20,61.45 L286.50,61.00 L286.80,61.91 L287.10,61.34 L287.40,61.68 L287.70,61.91 L288.00,61.86 L288.30,61.90 L288.60,61.52 L288.90,62.04 L289.20,60.74 L289.50,62.19 L289.80,61.53 L290.10,63.21 L290.40,63.38 L290.70,61.18 L291.00,62.70 L291.30,62.57 L291.60,61.97 L291.90,63.13 L292.20,62.48 L292.50,61.61 L292.80,62.70 L293.10,62.83 L293.40,63.04 L293.70,62.14 L294.00,63.47 L294.30,63.58 L294.60,62.29 L294.70,62.64 L294.90,63.06 L295.20,62.75 L295.50,64.39 L295.80,63.34 L296.10,62.51 L296.40,62.69 L296.70,63.22 L297.00,64.89 L297.30,63.18 L297.60,63.41 L297.90,63.70 L298.20,63.33 L298.50,64.96 L298.80,63.01 L299.10,63.91 L299.40,63.51 L299.70,63.83 L300.00,62.58 L300.00,64.64 L300.30,63.31 L300.60,63.40 L300.90,62.69 L301.20,62.79 L301.50,63.65 L301.80,63.88 L302.10,63.65 L302.40,63.89 L302.70,63.45 L303.00,62.88 L303.30,63.34 L303.60,63.07 L303.90,62.47 L304.20,62.93 L304.50,63.21 L304.80,62.35 L305.10,61.81 L305.40,62.43 L305.70,63.13 L306.00,61.53 L306.30,61.48 L306.60,61.32 L306.90,62.15 L307.20,59.88 L307.50,61.30 L307.80,61.76 L308.10,60.24 L308.40,61.75 L308.70,60.97 L308.70,60.22 L309.00,60.64 L309.30,59.33 L309.60,59.90 L309.90,61.48 L310.20,59.47 L310.50,61.29 L310.80,59.85 L311.10,60.50 L311.40,59.73 L311.70,58.04 L312.00,59.10 L312.30,59.54 L312.60,58.50 L312.90,58.26 L313.20,59.36 L313.50,58.55 L313.80,57.71 L314.10,58.32 L314.40,59.30 L314.70,58.26 L315.00,59.14 L315.30,59.45 L315.60,58.29 L315.90,57.37 L316.20,57.14 L316.50,57.92 L316.80,58.45 L317.10,57.90 L317.40,57.98 L317.70,57.17 L318.00,57.58 L318.30,56.92 L318.60,56.90 L318.90,56.10 L318.90,55.90 L319.20,56.54 L319.50,55.98 L319.80,55.96 L320.10,56.98 L320.40,56.31 L320.70,58.30 L321.00,56.78 L321.30,55.56 L321.60,56.42 L321.90,55.99 L322.20,55.13 L322.50,56.24 L322.80,54.79 L323.10,53.05 L323.40,55.59 L323.70,54.45 L324.00,55.77 L324.30,54.11 L324.60,53.57 L324.90,55.31 L325.20,53.29 L325.50,54.00 L325.80,54.68 L326.10,53.55 L326.20,53.34 L326.40,53.33 L326.70,53.62 L327.00,52.23 L327.30,52.97 L327.60,52.67 L327.90,53.62 L328.20,51.45 L328.50,50.74 L328.80,51.57 L329.10,50.44 L329.40,50.57 L329.70,50.10 L330.00,50.46 L330.30,48.80 L330.50,48.94 L330.60,47.08 L330.90,47.75 L331.20,48.85 L331.50,46.64 L331.80,45.92 L332.10,44.84 L332.40,45.38 L332.70,44.43 L333.00,42.86 L333.30,43.63 L333.60,42.94 L333.90,43.02 L334.20,41.95 L334.20,43.62 L334.50,42.83 L334.80,42.87 L335.10,43.20 L335.40,44.15 L335.70,45.79 L336.00,45.91 L336.30,47.76 L336.60,48.26 L336.90,49.54 L337.10,49.57 L337.20,49.14 L337.50,48.42 L337.80,50.56 L338.10,51.49 L338.40,51.62 L338.70,52.43 L339.00,52.18 L339.30,52.63 L339.60,52.53 L339.90,54.32 L340.00,53.51 L340.20,53.10 L340.50,52.57 L340.80,53.45 L341.10,54.62 L341.40,53.98 L341.70,53.19 L342.00,54.73 L342.30,54.76 L342.60,54.48 L342.90,54.37 L343.20,54.65 L343.50,54.25 L343.80,54.43 L344.10,53.36 L344.40,54.98 L344.70,54.11 L345.00,55.39 L345.30,52.56 L345.60,54.51 L345.90,54.73 L346.20,53.83 L346.50,54.42 L346.50,54.62 L346.80,54.54 L347.10,53.79 L347.40,54.10 L347.70,54.94 L348.00,55.15 L348.30,54.36 L348.60,54.37 L348.90,54.49 L349.20,55.11 L349.50,53.68 L349.80,53.51 L350.10,54.56 L350.40,53.73 L350.70,54.13 L351.00,54.63 L351.30,54.94 L351.60,53.88 L351.90,55.22 L352.20,53.45 L352.50,55.10 L352.80,53.65 L353.10,53.89 L353.40,55.26 L353.70,54.56 L354.00,54.32 L354.30,54.60 L354.60,55.26 L354.90,54.93 L355.20,54.98 L355.50,55.77 L355.80,54.56 L356.10,54.76 L356.40,54.75 L356.70,55.97 L357.00,55.87 L357.30,56.11 L357.60,55.22 L357.90,55.16 L358.20,55.90 L358.20,55.02 L358.50,55.91 L358.80,55.87 L359.10,54.90 L359.40,55.36 L359.70,55.36 L360.00,56.68 L360.30,57.30 L360.60,55.45 L360.90,55.55 L361.20,53.97 L361.50,55.74 L361.80,55.61 L362.10,54.89 L362.40,56.22 L362.70,54.60 L363.00,55.57 L363.30,55.84 L363.60,54.90 L363.90,56.40 L364.20,56.56 L364.50,54.88 L364.80,54.90 L365.10,56.33 L365.40,55.92 L365.70,55.12 L366.00,55.80 L366.30,55.96 L366.60,55.97 L366.90,56.68 L367.20,56.41 L367.50,57.42 L367.80,57.18 L368.10,56.73 L368.40,57.05 L368.40,57.23 L368.70,56.84 L369.00,55.53 L369.30,57.04 L369.60,56.54 L369.90,57.68 L370.20,56.67 L370.50,57.03 L370.80,56.96 L371.10,57.97 L371.40,56.98 L371.70,56.74 L372.00,57.22 L372.30,56.77 L372.60,57.26 L372.90,57.22 L373.20,57.50 L373.50,58.73 L373.80,57.18 L374.10,57.58 L374.40,57.50 L374.70,58.20 L375.00,56.99 L375.30,57.42 L375.60,57.97 L375.90,58.47 L376.20,58.15 L376.50,57.93 L376.80,57.77 L377.10,58.83 L377.40,59.58 L377.70,58.89 L377.80,58.83" fill="none" stroke="#f7931f" stroke-width="1.6" stroke-linejoin="round"/>
<line x1="316.90" y1="29.10" x2="329.00" y2="29.10" stroke="#f9a438" stroke-width="1.6" stroke-opacity="1"/>
<text transform="translate(332.90 32.70) scale(1.0 1.0)" text-anchor="start" font-size="9.500" >GOQDs-6</text>
<path d="M391.00,53.03 L391.30,52.76 L391.60,53.62 L391.90,54.19 L392.20,54.79 L392.50,54.18 L392.80,53.82 L393.10,53.76 L393.40,54.93 L393.70,55.66 L394.00,54.80 L394.30,53.85 L394.60,54.14 L394.90,56.04 L395.20,55.16 L395.50,53.91 L395.80,55.16 L396.10,54.51 L396.40,54.98 L396.70,55.18 L397.00,55.12 L397.30,56.11 L397.60,55.77 L397.90,55.50 L398.00,56.24 L398.20,56.60 L398.50,54.97 L398.80,56.06 L399.10,55.67 L399.40,56.35 L399.70,55.70 L400.00,56.74 L400.30,56.83 L400.60,56.78 L400.90,56.39 L401.20,56.98 L401.50,56.63 L401.80,56.57 L402.10,57.81 L402.40,57.01 L402.70,58.73 L403.00,58.53 L403.30,56.75 L403.60,58.45 L403.90,57.59 L404.20,58.48 L404.50,58.58 L404.80,57.24 L405.10,58.55 L405.40,58.60 L405.70,59.50 L406.00,58.05 L406.30,59.42 L406.60,58.16 L406.90,58.70 L407.20,58.34 L407.50,59.92 L407.80,59.26 L408.00,60.53 L408.10,59.26 L408.40,59.34 L408.70,59.27 L409.00,58.17 L409.30,58.46 L409.60,59.36 L409.90,58.03 L410.20,58.34 L410.50,58.07 L410.80,58.40 L411.10,57.59 L411.40,57.60 L411.70,57.74 L412.00,57.51 L412.30,56.68 L412.60,57.76 L412.90,56.07 L413.20,55.98 L413.50,55.77 L413.80,57.17 L414.10,56.08 L414.40,55.48 L414.70,55.19 L415.00,56.10 L415.30,54.88 L415.60,54.54 L415.90,55.67 L416.00,54.34 L416.20,54.82 L416.50,54.84 L416.80,54.31 L417.10,54.36 L417.40,55.09 L417.70,53.53 L418.00,52.74 L418.30,52.05 L418.60,52.88 L418.90,52.45 L419.20,52.53 L419.50,51.65 L419.80,51.24 L420.10,50.64 L420.40,50.32 L420.70,50.30 L421.00,49.39 L421.30,49.16 L421.60,49.81 L421.90,48.15 L422.20,46.00 L422.50,47.55 L422.80,45.75 L423.10,43.95 L423.40,44.28 L423.70,42.61 L424.00,41.03 L424.30,39.80 L424.60,38.23 L424.90,37.54 L425.20,36.73 L425.50,34.12 L425.80,32.89 L426.10,32.05 L426.40,27.93 L426.70,26.91 L427.00,24.39 L427.30,21.68 L427.60,19.51 L427.90,18.04 L428.20,16.25 L428.50,13.61 L428.80,12.26 L429.10,11.23 L429.40,9.77 L429.70,9.39 L430.00,8.75 L430.00,8.77 L430.30,9.79 L430.60,9.46 L430.90,10.05 L431.20,11.75 L431.50,12.22 L431.80,14.48 L432.10,17.31 L432.40,19.34 L432.70,22.19 L433.00,23.33 L433.30,24.48 L433.60,28.99 L433.90,30.43 L434.20,30.87 L434.50,34.41 L434.80,35.20 L435.10,35.52 L435.40,38.00 L435.70,39.35 L436.00,42.12 L436.30,41.66 L436.60,43.16 L436.90,44.18 L437.20,45.07 L437.50,45.58 L437.80,47.20 L438.10,48.57 L438.40,48.97 L438.70,48.54 L439.00,49.00 L439.30,50.46 L439.60,50.42 L439.90,50.97 L440.20,50.70 L440.50,53.68 L440.80,53.37 L441.10,52.43 L441.40,54.10 L441.70,54.75 L442.00,52.45 L442.30,54.04 L442.60,54.44 L442.90,55.43 L443.20,55.15 L443.50,55.31 L443.80,55.66 L444.00,57.14 L444.10,57.43 L444.40,55.76 L444.70,55.69 L445.00,58.43 L445.30,56.06 L445.60,56.54 L445.90,57.16 L446.20,57.66 L446.50,58.23 L446.80,57.97 L447.10,57.27 L447.40,58.41 L447.70,58.41 L448.00,59.72 L448.30,58.56 L448.60,57.80 L448.90,58.16 L449.20,60.06 L449.50,58.82 L449.80,57.87 L450.10,59.08 L450.40,59.62 L450.70,60.58 L451.00,59.16 L451.30,60.46 L451.60,60.66 L451.90,59.72 L452.20,60.18 L452.50,61.64 L452.80,61.69 L453.10,61.16 L453.40,60.86 L453.70,61.48 L454.00,60.64 L454.00,60.67 L454.30,60.18 L454.60,60.82 L454.90,60.79 L455.20,62.81 L455.50,60.75 L455.80,61.79 L456.10,61.84 L456.40,60.78 L456.70,61.73 L457.00,59.38 L457.30,60.96 L457.60,61.48 L457.90,59.18 L458.20,60.03 L458.50,61.55 L458.80,60.60 L459.10,59.98 L459.40,60.44 L459.70,60.28 L460.00,61.12 L460.30,60.88 L460.60,60.31 L460.90,59.99 L461.20,60.36 L461.50,61.26 L461.80,60.51 L462.10,60.65 L462.40,60.02 L462.70,59.15 L463.00,59.48 L463.30,60.35 L463.60,59.89 L463.90,59.10 L464.20,58.52 L464.50,59.64 L464.80,59.24 L465.10,59.14 L465.40,59.06 L465.70,59.40 L466.00,59.31 L466.30,59.68 L466.60,59.56 L466.90,59.74 L467.20,59.28 L467.50,58.38 L467.80,58.47 L468.00,58.79 L468.10,58.19 L468.40,58.66 L468.70,58.93 L469.00,57.38 L469.30,56.51 L469.60,58.38 L469.90,57.34 L470.20,57.61 L470.50,55.97 L470.80,57.91 L471.10,57.03 L471.40,56.25 L471.70,55.95 L472.00,56.16 L472.00,55.96 L472.30,55.78 L472.60,55.10 L472.90,56.67 L473.20,55.66 L473.50,55.64 L473.80,55.56 L474.10,53.75 L474.40,55.67 L474.70,54.98 L475.00,54.92 L475.30,55.09 L475.60,54.27 L475.90,55.46 L476.20,54.30 L476.50,54.08 L476.80,54.03 L477.10,54.67 L477.40,55.01 L477.70,54.01 L478.00,53.30 L478.30,55.04 L478.60,53.50 L478.90,55.03 L479.20,54.10 L479.50,53.61 L479.80,53.61 L480.10,54.34 L480.40,54.61 L480.70,53.82 L481.00,54.60 L481.30,55.38 L481.60,53.76 L481.90,53.09 L482.20,53.16 L482.40,52.93 L482.50,53.45 L482.80,53.40 L483.10,52.99 L483.40,54.29 L483.70,52.10 L484.00,53.02 L484.30,55.36 L484.60,54.69 L484.90,54.34 L485.20,54.31 L485.50,55.24 L485.80,54.39 L486.10,54.09 L486.40,53.19 L486.70,54.02 L487.00,53.57 L487.30,53.61 L487.60,53.63 L487.90,54.12 L488.20,53.94 L488.50,54.80 L488.80,53.28 L489.10,54.11 L489.40,55.56 L489.70,54.30 L489.90,55.13 L490.00,55.10 L490.30,55.25 L490.60,54.88 L490.90,53.43 L491.20,54.26 L491.50,54.23 L491.80,53.46 L492.10,54.28 L492.40,53.79 L492.70,53.56 L493.00,54.95 L493.30,54.84 L493.60,54.46 L493.90,54.36 L494.20,54.73 L494.50,54.91 L494.80,54.99 L495.10,55.32 L495.40,55.14 L495.70,55.81 L496.00,55.99 L496.30,55.97 L496.60,55.34 L496.90,55.47 L497.20,56.29 L497.50,55.94 L497.80,56.14 L498.10,54.52 L498.40,54.46 L498.70,56.67 L498.80,56.70 L499.00,57.50 L499.30,57.12 L499.60,56.82 L499.90,56.41 L500.20,53.92 L500.50,52.95 L500.80,51.40 L501.10,54.69 L501.40,56.70 L501.70,57.51 L502.00,58.14 L502.30,57.29 L502.60,57.47 L502.90,57.25 L503.20,57.69 L503.30,59.16 L503.50,57.81 L503.80,59.01 L504.10,58.88 L504.40,58.92 L504.70,59.09 L505.00,57.94 L505.30,59.03 L505.60,60.01 L505.90,58.53 L506.20,59.11 L506.50,58.79 L506.80,59.62 L507.10,58.77 L507.40,60.78 L507.70,59.51 L508.00,58.82 L508.30,61.29 L508.60,60.84 L508.90,60.65 L509.20,60.78 L509.50,60.29 L509.80,60.51 L510.10,61.29 L510.40,61.55 L510.70,61.68 L510.70,61.18 L511.00,60.82 L511.30,61.14 L511.60,62.17 L511.90,62.52 L512.20,61.39 L512.50,61.41 L512.80,62.74 L513.10,62.49 L513.40,62.59 L513.70,61.30 L514.00,62.07 L514.30,62.09 L514.60,62.71 L514.90,61.51 L515.20,63.69 L515.50,63.13 L515.80,63.34 L516.10,62.32 L516.40,63.25 L516.70,64.32 L517.00,62.40 L517.30,63.83 L517.60,64.22 L517.90,63.37 L518.20,64.54 L518.50,63.85 L518.80,65.06 L519.10,64.69 L519.40,64.60 L519.70,65.96 L520.00,65.26 L520.30,65.71 L520.60,64.08 L520.90,64.58 L521.20,65.74 L521.50,65.91 L521.80,65.36 L522.10,66.07 L522.40,64.91 L522.70,65.92 L522.70,64.97 L523.00,66.13 L523.30,65.68 L523.60,65.70 L523.90,66.32 L524.20,67.68 L524.50,65.83 L524.80,66.24 L525.10,67.54 L525.40,66.63 L525.70,68.30 L526.00,67.35 L526.30,67.39 L526.60,67.71 L526.90,68.81 L527.20,68.19 L527.50,68.22 L527.80,68.17 L528.10,67.03 L528.40,67.64 L528.70,69.43 L529.00,69.10 L529.30,69.02 L529.60,69.24 L529.90,68.55 L530.20,69.30 L530.50,68.56 L530.80,69.60 L531.10,68.95 L531.40,69.43 L531.70,70.03 L532.00,69.61 L532.30,70.42 L532.60,70.41 L532.90,70.47 L533.10,71.22 L533.20,69.31 L533.50,69.34 L533.80,71.01 L534.10,71.36 L534.40,72.23 L534.70,71.48 L535.00,71.65 L535.30,70.57 L535.60,71.84 L535.90,71.90 L536.20,70.81 L536.50,71.04 L536.80,71.71 L537.10,72.11 L537.40,69.96 L537.70,72.19 L538.00,72.42 L538.30,72.26 L538.60,72.68 L538.90,72.93 L539.20,72.02 L539.50,73.14 L539.80,72.78 L540.10,72.41 L540.40,73.34 L540.70,74.34 L541.00,72.40 L541.30,72.37 L541.60,72.49 L541.90,75.14 L542.20,73.69 L542.50,73.94 L542.80,73.54 L543.10,73.54 L543.40,72.89 L543.70,74.54 L544.00,74.72 L544.30,73.26 L544.50,73.99" fill="none" stroke="#154b7c" stroke-width="1.6" stroke-linejoin="round"/>
<line x1="483.00" y1="28.40" x2="495.40" y2="28.40" stroke="#225a8c" stroke-width="1.3" stroke-opacity="1"/>
<text transform="translate(499.40 32.00) scale(1.0 1.0)" text-anchor="start" font-size="9.500" >GOQDs-8</text>
<rect x="34.90" y="120.30" width="69.40" height="75.00" fill="none" stroke="#404040" stroke-width="1"/>
<line x1="34.90" y1="195.30" x2="34.90" y2="201.30" stroke="#404040" stroke-width="1" stroke-opacity="1"/>
<text transform="translate(34.90 210.80) scale(1.0 1.0)" text-anchor="middle" font-size="9.500" >4000</text>
<line x1="74.56" y1="195.30" x2="74.56" y2="201.30" stroke="#404040" stroke-width="1" stroke-opacity="1"/>
<text transform="translate(74.56 210.80) scale(1.0 1.0)" text-anchor="middle" font-size="9.500" >2000</text>
<line x1="54.73" y1="195.30" x2="54.73" y2="198.50" stroke="#404040" stroke-width="1" stroke-opacity="1"/>
<line x1="94.39" y1="195.30" x2="94.39" y2="198.50" stroke="#404040" stroke-width="1" stroke-opacity="1"/>
<line x1="34.90" y1="120.30" x2="28.40" y2="120.30" stroke="#404040" stroke-width="1" stroke-opacity="1"/>
<text transform="translate(26.20 123.90) scale(1.0 1.0)" text-anchor="end" font-size="9.500" >80</text>
<line x1="34.90" y1="147.57" x2="28.40" y2="147.57" stroke="#404040" stroke-width="1" stroke-opacity="1"/>
<text transform="translate(26.20 151.17) scale(1.0 1.0)" text-anchor="end" font-size="9.500" >60</text>
<line x1="34.90" y1="174.85" x2="28.40" y2="174.85" stroke="#404040" stroke-width="1" stroke-opacity="1"/>
<text transform="translate(26.20 178.45) scale(1.0 1.0)" text-anchor="end" font-size="9.500" >40</text>
<line x1="34.90" y1="133.94" x2="31.70" y2="133.94" stroke="#404040" stroke-width="1" stroke-opacity="1"/>
<line x1="34.90" y1="161.21" x2="31.70" y2="161.21" stroke="#404040" stroke-width="1" stroke-opacity="1"/>
<line x1="34.90" y1="188.48" x2="31.70" y2="188.48" stroke="#404040" stroke-width="1" stroke-opacity="1"/>
<text transform="translate(61.90 222.40) scale(1.0 1.0)" text-anchor="middle" font-size="9.500" >Wavenumber / cm<tspan font-size="5.6" dy="-3.9">−1</tspan></text>
<rect x="140.30" y="120.30" width="69.00" height="75.00" fill="none" stroke="#404040" stroke-width="1"/>
<line x1="140.30" y1="195.30" x2="140.30" y2="201.30" stroke="#404040" stroke-width="1" stroke-opacity="1"/>
<text transform="translate(140.30 210.80) scale(1.0 1.0)" text-anchor="middle" font-size="9.500" >4000</text>
<line x1="179.73" y1="195.30" x2="179.73" y2="201.30" stroke="#404040" stroke-width="1" stroke-opacity="1"/>
<text transform="translate(179.73 210.80) scale(1.0 1.0)" text-anchor="middle" font-size="9.500" >2000</text>
<line x1="160.01" y1="195.30" x2="160.01" y2="198.50" stroke="#404040" stroke-width="1" stroke-opacity="1"/>
<line x1="199.44" y1="195.30" x2="199.44" y2="198.50" stroke="#404040" stroke-width="1" stroke-opacity="1"/>
<line x1="140.30" y1="120.30" x2="133.80" y2="120.30" stroke="#404040" stroke-width="1" stroke-opacity="1"/>
<text transform="translate(131.60 123.90) scale(1.0 1.0)" text-anchor="end" font-size="9.500" >80</text>
<line x1="140.30" y1="147.57" x2="133.80" y2="147.57" stroke="#404040" stroke-width="1" stroke-opacity="1"/>
<text transform="translate(131.60 151.17) scale(1.0 1.0)" text-anchor="end" font-size="9.500" >60</text>
<line x1="140.30" y1="174.85" x2="133.80" y2="174.85" stroke="#404040" stroke-width="1" stroke-opacity="1"/>
<text transform="translate(131.60 178.45) scale(1.0 1.0)" text-anchor="end" font-size="9.500" >40</text>
<line x1="140.30" y1="133.94" x2="137.10" y2="133.94" stroke="#404040" stroke-width="1" stroke-opacity="1"/>
<line x1="140.30" y1="161.21" x2="137.10" y2="161.21" stroke="#404040" stroke-width="1" stroke-opacity="1"/>
<line x1="140.30" y1="188.48" x2="137.10" y2="188.48" stroke="#404040" stroke-width="1" stroke-opacity="1"/>
<text transform="translate(166.00 222.40) scale(1.0 1.0)" text-anchor="middle" font-size="9.500" >Wavenumber / cm<tspan font-size="5.6" dy="-3.9">−1</tspan></text>
<rect x="251.10" y="120.30" width="126.90" height="75.00" fill="none" stroke="#404040" stroke-width="1"/>
<line x1="251.10" y1="195.30" x2="251.10" y2="201.30" stroke="#404040" stroke-width="1" stroke-opacity="1"/>
<text transform="translate(251.10 210.80) scale(1.0 1.0)" text-anchor="middle" font-size="9.500" >4000</text>
<line x1="287.36" y1="195.30" x2="287.36" y2="201.30" stroke="#404040" stroke-width="1" stroke-opacity="1"/>
<text transform="translate(287.36 210.80) scale(1.0 1.0)" text-anchor="middle" font-size="9.500" >3000</text>
<line x1="323.61" y1="195.30" x2="323.61" y2="201.30" stroke="#404040" stroke-width="1" stroke-opacity="1"/>
<text transform="translate(323.61 210.80) scale(1.0 1.0)" text-anchor="middle" font-size="9.500" >2000</text>
<line x1="359.87" y1="195.30" x2="359.87" y2="201.30" stroke="#404040" stroke-width="1" stroke-opacity="1"/>
<text transform="translate(359.87 210.80) scale(1.0 1.0)" text-anchor="middle" font-size="9.500" >1000</text>
<line x1="269.23" y1="195.30" x2="269.23" y2="198.50" stroke="#404040" stroke-width="1" stroke-opacity="1"/>
<line x1="305.49" y1="195.30" x2="305.49" y2="198.50" stroke="#404040" stroke-width="1" stroke-opacity="1"/>
<line x1="341.74" y1="195.30" x2="341.74" y2="198.50" stroke="#404040" stroke-width="1" stroke-opacity="1"/>
<line x1="378.00" y1="195.30" x2="378.00" y2="198.50" stroke="#404040" stroke-width="1" stroke-opacity="1"/>
<line x1="251.10" y1="120.30" x2="244.60" y2="120.30" stroke="#404040" stroke-width="1" stroke-opacity="1"/>
<text transform="translate(242.40 123.90) scale(1.0 1.0)" text-anchor="end" font-size="9.500" >80</text>
<line x1="251.10" y1="147.57" x2="244.60" y2="147.57" stroke="#404040" stroke-width="1" stroke-opacity="1"/>
<text transform="translate(242.40 151.17) scale(1.0 1.0)" text-anchor="end" font-size="9.500" >60</text>
<line x1="251.10" y1="174.85" x2="244.60" y2="174.85" stroke="#404040" stroke-width="1" stroke-opacity="1"/>
<text transform="translate(242.40 178.45) scale(1.0 1.0)" text-anchor="end" font-size="9.500" >40</text>
<line x1="251.10" y1="133.94" x2="247.90" y2="133.94" stroke="#404040" stroke-width="1" stroke-opacity="1"/>
<line x1="251.10" y1="161.21" x2="247.90" y2="161.21" stroke="#404040" stroke-width="1" stroke-opacity="1"/>
<line x1="251.10" y1="188.48" x2="247.90" y2="188.48" stroke="#404040" stroke-width="1" stroke-opacity="1"/>
<text transform="translate(314.00 222.40) scale(1.0 1.0)" text-anchor="middle" font-size="9.500" >Wavenumber / cm<tspan font-size="5.6" dy="-3.9">−1</tspan></text>
<rect x="417.50" y="120.30" width="127.00" height="75.00" fill="none" stroke="#404040" stroke-width="1"/>
<line x1="417.50" y1="195.30" x2="417.50" y2="201.30" stroke="#404040" stroke-width="1" stroke-opacity="1"/>
<text transform="translate(417.50 210.80) scale(1.0 1.0)" text-anchor="middle" font-size="9.500" >4000</text>
<line x1="453.79" y1="195.30" x2="453.79" y2="201.30" stroke="#404040" stroke-width="1" stroke-opacity="1"/>
<text transform="translate(453.79 210.80) scale(1.0 1.0)" text-anchor="middle" font-size="9.500" >3000</text>
<line x1="490.07" y1="195.30" x2="490.07" y2="201.30" stroke="#404040" stroke-width="1" stroke-opacity="1"/>
<text transform="translate(490.07 210.80) scale(1.0 1.0)" text-anchor="middle" font-size="9.500" >2000</text>
<line x1="526.36" y1="195.30" x2="526.36" y2="201.30" stroke="#404040" stroke-width="1" stroke-opacity="1"/>
<text transform="translate(526.36 210.80) scale(1.0 1.0)" text-anchor="middle" font-size="9.500" >1000</text>
<line x1="435.64" y1="195.30" x2="435.64" y2="198.50" stroke="#404040" stroke-width="1" stroke-opacity="1"/>
<line x1="471.93" y1="195.30" x2="471.93" y2="198.50" stroke="#404040" stroke-width="1" stroke-opacity="1"/>
<line x1="508.21" y1="195.30" x2="508.21" y2="198.50" stroke="#404040" stroke-width="1" stroke-opacity="1"/>
<line x1="544.50" y1="195.30" x2="544.50" y2="198.50" stroke="#404040" stroke-width="1" stroke-opacity="1"/>
<line x1="417.50" y1="120.30" x2="411.00" y2="120.30" stroke="#404040" stroke-width="1" stroke-opacity="1"/>
<text transform="translate(408.80 123.90) scale(1.0 1.0)" text-anchor="end" font-size="9.500" >80</text>
<line x1="417.50" y1="147.57" x2="411.00" y2="147.57" stroke="#404040" stroke-width="1" stroke-opacity="1"/>
<text transform="translate(408.80 151.17) scale(1.0 1.0)" text-anchor="end" font-size="9.500" >60</text>
<line x1="417.50" y1="174.85" x2="411.00" y2="174.85" stroke="#404040" stroke-width="1" stroke-opacity="1"/>
<text transform="translate(408.80 178.45) scale(1.0 1.0)" text-anchor="end" font-size="9.500" >40</text>
<line x1="417.50" y1="133.94" x2="414.30" y2="133.94" stroke="#404040" stroke-width="1" stroke-opacity="1"/>
<line x1="417.50" y1="161.21" x2="414.30" y2="161.21" stroke="#404040" stroke-width="1" stroke-opacity="1"/>
<line x1="417.50" y1="188.48" x2="414.30" y2="188.48" stroke="#404040" stroke-width="1" stroke-opacity="1"/>
<text transform="translate(480.60 222.40) scale(1.0 1.0)" text-anchor="middle" font-size="9.500" >Wavenumber / cm<tspan font-size="5.6" dy="-3.9">−1</tspan></text>
<text transform="translate(13.00 157.50) rotate(-90) scale(1.0 1)" text-anchor="middle" font-size="10">Transmittance / %</text>
<text transform="translate(118.20 157.50) rotate(-90) scale(1.0 1)" text-anchor="middle" font-size="10">Transmittance / %</text>
<text transform="translate(222.30 157.50) rotate(-90) scale(1.0 1)" text-anchor="middle" font-size="10">Transmittance / %</text>
<text transform="translate(389.00 157.50) rotate(-90) scale(1.0 1)" text-anchor="middle" font-size="10">Transmittance / %</text>
<text transform="translate(100.50 131.00) scale(1.0 1.0)" text-anchor="end" font-size="9.800" >(e)</text>
<text transform="translate(205.50 131.00) scale(1.0 1.0)" text-anchor="end" font-size="9.800" >(f)</text>
<text transform="translate(374.20 131.00) scale(1.0 1.0)" text-anchor="end" font-size="9.800" >(g)</text>
<text transform="translate(540.70 131.00) scale(1.0 1.0)" text-anchor="end" font-size="9.800" >(h)</text>
<path d="M34.90,188.78 L35.40,188.29 L35.90,188.69 L36.40,188.60 L36.90,188.71 L37.40,188.61 L37.90,188.74 L38.40,188.55 L38.90,188.48 L39.40,188.58 L39.90,188.55 L40.40,188.45 L40.90,188.44 L41.40,188.52 L41.90,188.49 L42.40,188.35 L42.90,188.34 L43.40,188.17 L43.90,188.50 L44.40,188.28 L44.50,188.43 L44.90,188.32 L45.40,188.44 L45.90,188.36 L46.40,188.19 L46.90,188.26 L47.40,187.96 L47.90,188.13 L48.40,187.79 L48.90,187.90 L49.40,187.90 L49.90,187.74 L50.40,187.61 L50.90,187.48 L51.40,187.44 L51.90,187.50 L52.40,187.39 L52.90,187.19 L53.40,187.00 L53.90,187.10 L54.40,186.79 L54.90,186.79 L55.40,186.68 L55.90,186.73 L56.40,186.59 L56.90,186.52 L57.40,186.41 L57.90,186.22 L58.40,186.26 L58.90,186.26 L59.40,186.03 L59.90,186.01 L60.20,185.89 L60.40,185.97 L60.90,185.86 L61.40,185.80 L61.90,185.67 L62.40,185.72 L62.90,185.45 L63.40,185.37 L63.90,185.27 L64.40,185.31 L64.90,185.11 L65.40,185.03 L65.90,185.09 L66.40,185.05 L66.90,184.91 L67.40,184.51 L67.90,184.60 L68.40,184.50 L68.90,184.40 L69.40,184.39 L69.90,184.52 L70.40,184.21 L70.60,184.13 L70.90,184.21 L71.40,184.04 L71.90,183.94 L72.40,183.75 L72.90,183.70 L73.40,183.63 L73.90,183.27 L74.40,183.18 L74.90,183.32 L75.40,183.17 L75.90,182.91 L76.40,182.73 L76.90,182.69 L77.40,182.46 L77.90,182.42 L78.40,182.50 L78.90,182.22 L79.40,182.21 L79.80,181.98 L79.90,182.01 L80.40,182.00 L80.90,181.62 L81.40,181.61 L81.90,181.52 L82.40,181.46 L82.90,181.48 L83.40,181.29 L83.90,180.97 L84.40,180.99 L84.90,180.82 L85.40,180.71 L85.90,180.90 L86.40,180.48 L86.90,180.50 L87.40,180.30 L87.90,180.34 L88.40,180.18 L88.90,180.04 L89.00,179.99 L89.40,180.02 L89.90,179.70 L90.40,179.60 L90.90,179.45 L91.40,179.58 L91.90,179.30 L92.40,179.10 L92.90,179.04 L93.40,179.20 L93.90,178.80 L94.40,178.75 L94.90,178.55 L95.40,178.33 L95.50,178.23 L95.90,178.09 L96.40,177.82 L96.90,177.41 L97.00,177.86 L97.40,177.61 L97.90,177.44 L98.00,177.38 L98.40,177.14 L98.90,176.96 L99.40,176.37 L99.90,175.89 L100.40,175.12 L100.80,174.84 L100.90,174.89 L101.40,174.05 L101.90,173.50 L102.40,172.72 L102.90,172.06 L103.40,171.26 L103.90,170.31 L104.30,169.54" fill="none" stroke="#74acb2" stroke-width="1.0" stroke-linejoin="round"/>
<line x1="38.80" y1="171.10" x2="51.20" y2="171.10" stroke="#a6cbcf" stroke-width="1.6" stroke-opacity="1"/>
<text transform="translate(55.80 174.70) scale(1.0 1.0)" text-anchor="start" font-size="9.500" >Graphite</text>
<path d="M140.30,137.50 L140.80,137.50 L141.30,137.50 L141.80,137.50 L142.30,137.50 L142.80,137.50 L143.30,137.50 L143.80,137.50 L144.30,137.50 L144.80,137.50 L145.30,137.50 L145.80,137.50 L146.30,137.50 L146.80,137.50 L147.00,137.50 L147.30,137.93 L147.80,140.06 L148.30,142.88 L148.75,145.00 L148.80,145.18 L149.30,146.93 L149.80,148.61 L150.30,150.15 L150.80,151.49 L151.25,152.50 L151.30,152.60 L151.80,153.60 L152.30,154.60 L152.80,155.57 L153.30,156.48 L153.80,157.32 L154.30,158.06 L154.80,158.67 L155.30,159.13 L155.80,159.41 L156.25,159.50 L156.30,159.50 L156.80,159.40 L157.30,159.16 L157.80,158.79 L158.30,158.33 L158.80,157.79 L159.30,157.20 L159.80,156.58 L160.30,155.96 L160.80,155.35 L161.30,154.79 L161.80,154.29 L162.30,153.88 L162.50,153.75 L162.80,153.57 L163.30,153.28 L163.80,153.01 L164.30,152.76 L164.80,152.52 L165.30,152.30 L165.80,152.08 L166.30,151.87 L166.80,151.66 L167.30,151.46 L167.80,151.26 L168.30,151.05 L168.80,150.84 L169.30,150.62 L169.80,150.39 L170.00,150.30 L170.30,150.15 L170.80,149.90 L171.30,149.63 L171.80,149.35 L172.30,149.07 L172.80,148.79 L173.30,148.51 L173.80,148.24 L174.30,147.98 L174.80,147.74 L175.30,147.52 L175.80,147.32 L176.30,147.16 L176.50,147.10 L176.80,147.02 L177.30,146.87 L177.80,146.74 L178.30,146.65 L178.80,146.60 L178.90,146.60 L179.30,146.62 L179.80,146.69 L180.30,146.80 L180.80,146.97 L181.30,147.18 L181.80,147.43 L182.10,147.60 L182.30,147.77 L182.80,148.61 L183.30,149.89 L183.80,151.46 L184.20,152.80 L184.30,153.19 L184.80,156.12 L185.30,159.31 L185.80,160.80 L186.30,160.20 L186.80,159.32 L187.00,159.20 L187.30,160.24 L187.80,162.50 L188.30,161.11 L188.80,158.13 L189.30,155.33 L189.70,154.40 L189.80,154.47 L190.30,156.49 L190.80,160.12 L191.30,163.73 L191.80,165.70 L192.30,166.18 L192.80,166.48 L193.30,166.72 L193.80,166.99 L194.20,167.30 L194.30,167.40 L194.80,167.99 L195.30,168.75 L195.80,169.70 L196.30,171.32 L196.80,173.77 L197.30,176.53 L197.80,179.13 L198.30,181.05 L198.80,181.80 L199.30,181.27 L199.80,179.90 L200.30,178.02 L200.80,175.98 L201.30,174.10 L201.80,172.73 L202.30,172.20 L202.80,172.22 L203.30,172.28 L203.80,172.41 L204.30,172.63 L204.80,172.95 L205.30,173.39 L205.80,173.98 L206.30,174.74 L206.80,175.68 L207.30,176.82 L207.80,178.18 L208.30,179.78 L208.80,181.65 L209.30,183.80" fill="none" stroke="#2eb4cb" stroke-width="1.2" stroke-linejoin="round"/>
<line x1="143.80" y1="171.10" x2="156.20" y2="171.10" stroke="#2eb4cb" stroke-width="1.5" stroke-opacity="1"/>
<text transform="translate(160.80 174.70) scale(1.0 1.0)" text-anchor="start" font-size="9.500" >GO</text>
<path d="M251.00,132.30 L251.30,132.30 L251.60,132.30 L251.90,132.30 L252.20,132.30 L252.50,132.30 L252.80,132.30 L253.10,132.30 L253.40,132.30 L253.70,132.30 L254.00,132.30 L254.30,132.30 L254.60,132.30 L254.90,132.30 L255.20,132.30 L255.50,132.30 L255.80,132.30 L256.10,132.30 L256.40,132.30 L256.70,132.30 L257.00,132.30 L257.30,132.30 L257.60,132.30 L257.90,132.30 L258.20,132.30 L258.50,132.30 L258.80,132.30 L259.10,132.30 L259.40,132.30 L259.70,132.30 L260.00,132.30 L260.30,132.30 L260.60,132.30 L260.90,132.30 L261.20,132.30 L261.50,132.30 L261.80,132.30 L262.10,132.30 L262.40,132.30 L262.70,132.30 L262.80,132.30 L263.00,132.34 L263.30,132.54 L263.60,132.86 L263.90,133.28 L264.20,133.74 L264.50,134.23 L264.80,134.69 L265.10,135.09 L265.40,135.40 L265.40,135.40 L265.70,135.64 L266.00,135.88 L266.30,136.12 L266.60,136.36 L266.90,136.59 L267.20,136.82 L267.50,137.04 L267.80,137.26 L268.10,137.47 L268.40,137.67 L268.70,137.87 L269.00,138.06 L269.30,138.25 L269.60,138.42 L269.90,138.59 L270.20,138.75 L270.50,138.90 L270.80,139.04 L271.10,139.17 L271.40,139.28 L271.70,139.39 L272.00,139.48 L272.30,139.56 L272.60,139.63 L272.90,139.68 L273.00,139.70 L273.20,139.73 L273.50,139.77 L273.80,139.81 L274.10,139.85 L274.40,139.89 L274.70,139.93 L275.00,139.97 L275.30,140.00 L275.60,140.04 L275.90,140.07 L276.20,140.10 L276.50,140.13 L276.80,140.16 L277.10,140.19 L277.40,140.22 L277.70,140.25 L278.00,140.27 L278.30,140.30 L278.60,140.32 L278.90,140.34 L279.20,140.36 L279.50,140.38 L279.80,140.40 L280.10,140.42 L280.40,140.43 L280.70,140.45 L281.00,140.46 L281.30,140.47 L281.60,140.48 L281.90,140.49 L282.20,140.49 L282.50,140.50 L282.80,140.50 L283.10,140.50 L283.20,140.50 L283.40,140.50 L283.70,140.50 L284.00,140.50 L284.30,140.50 L284.60,140.50 L284.90,140.50 L285.20,140.50 L285.50,140.50 L285.80,140.50 L286.10,140.50 L286.40,140.50 L286.70,140.50 L287.00,140.50 L287.30,140.50 L287.60,140.50 L287.90,140.50 L288.20,140.50 L288.50,140.50 L288.80,140.50 L289.10,140.50 L289.40,140.50 L289.70,140.50 L290.00,140.50 L290.30,140.50 L290.60,140.50 L290.90,140.50 L291.20,140.50 L291.50,140.50 L291.80,140.50 L292.10,140.50 L292.40,140.50 L292.70,140.50 L293.00,140.50 L293.30,140.50 L293.60,140.50 L293.90,140.50 L294.20,140.50 L294.50,140.50 L294.80,140.50 L295.10,140.50 L295.40,140.50 L295.70,140.50 L296.00,140.50 L296.30,140.50 L296.60,140.50 L296.90,140.50 L297.20,140.50 L297.50,140.50 L297.80,140.50 L298.10,140.50 L298.40,140.50 L298.70,140.50 L299.00,140.50 L299.30,140.50 L299.60,140.50 L299.90,140.50 L300.20,140.64 L300.50,140.25 L300.80,140.39 L301.10,140.54 L301.40,140.25 L301.70,140.72 L302.00,140.35 L302.30,140.28 L302.60,140.39 L302.90,140.39 L303.20,140.50 L303.50,140.48 L303.80,140.65 L304.10,140.48 L304.40,140.53 L304.70,140.35 L305.00,140.57 L305.30,140.38 L305.60,140.21 L305.90,140.70 L306.20,140.34 L306.50,140.34 L306.80,140.37 L307.10,140.60 L307.40,140.27 L307.70,140.44 L308.00,140.59 L308.30,140.78 L308.60,140.46 L308.60,140.51 L308.90,140.37 L309.20,140.80 L309.50,140.49 L309.80,140.51 L310.10,140.55 L310.40,140.41 L310.70,140.56 L311.00,140.39 L311.30,140.82 L311.60,140.59 L311.90,140.61 L312.20,140.83 L312.50,140.50 L312.80,140.91 L313.10,140.96 L313.40,140.64 L313.70,140.89 L314.00,140.79 L314.30,140.97 L314.60,140.87 L314.90,140.76 L315.20,141.01 L315.50,140.91 L315.80,140.98 L316.10,141.07 L316.40,140.99 L316.70,140.65 L317.00,140.02 L317.30,140.07 L317.60,139.89 L317.90,140.34 L318.20,140.53 L318.50,141.10 L318.80,141.16 L318.80,141.09 L319.10,141.23 L319.40,140.96 L319.70,141.33 L320.00,141.27 L320.30,141.10 L320.60,141.34 L320.90,141.36 L321.20,141.45 L321.50,141.54 L321.80,141.94 L322.10,142.24 L322.40,142.33 L322.70,142.27 L323.00,141.98 L323.30,141.67 L323.60,141.63 L323.90,141.35 L324.20,141.18 L324.50,141.42 L324.80,141.55 L325.10,141.35 L325.40,141.53 L325.70,141.48 L326.00,141.27 L326.30,141.48 L326.60,141.43 L326.90,141.56 L327.20,141.06 L327.50,141.61 L327.80,141.62 L328.10,141.38 L328.40,141.70 L328.70,141.54 L329.00,141.61 L329.30,141.74 L329.60,141.84 L329.90,141.69 L330.20,141.69 L330.30,141.70 L330.50,141.78 L330.80,142.08 L331.10,142.57 L331.40,143.20 L331.70,143.92 L332.00,144.67 L332.30,145.41 L332.60,146.09 L332.90,146.66 L333.20,147.08 L333.50,147.29 L333.60,147.30 L333.80,147.29 L334.10,147.22 L334.40,147.10 L334.70,146.95 L335.00,146.78 L335.30,146.60 L335.60,146.42 L335.90,146.25 L336.20,146.12 L336.50,146.02 L336.60,146.00 L336.80,145.96 L337.10,145.91 L337.40,145.86 L337.70,145.81 L338.00,145.77 L338.30,145.72 L338.60,145.68 L338.90,145.65 L339.20,145.61 L339.50,145.58 L339.80,145.56 L340.10,145.54 L340.40,145.52 L340.70,145.51 L341.00,145.50 L341.20,145.50 L341.30,145.51 L341.60,145.58 L341.90,145.73 L342.20,145.95 L342.50,146.22 L342.80,146.53 L343.10,146.88 L343.40,147.24 L343.70,147.62 L344.00,147.99 L344.30,148.35 L344.60,148.68 L344.90,148.97 L345.20,149.22 L345.50,149.40 L345.50,149.40 L345.80,149.54 L346.10,149.68 L346.40,149.80 L346.70,149.91 L347.00,150.02 L347.30,150.11 L347.60,150.20 L347.90,150.29 L348.20,150.37 L348.50,150.45 L348.80,150.52 L349.10,150.59 L349.40,150.66 L349.70,150.74 L350.00,150.81 L350.30,150.88 L350.60,150.96 L350.90,151.04 L351.20,151.13 L351.50,151.22 L351.80,151.32 L352.10,151.43 L352.40,151.54 L352.70,151.67 L353.00,151.80 L353.20,151.90 L353.30,151.95 L353.60,152.16 L353.90,152.43 L354.20,152.74 L354.50,153.07 L354.80,153.43 L355.10,153.79 L355.40,154.13 L355.70,154.45 L356.00,154.73 L356.30,154.96 L356.60,155.12 L356.90,155.19 L357.00,155.20 L357.20,155.18 L357.50,155.11 L357.80,154.97 L358.10,154.79 L358.40,154.59 L358.70,154.36 L359.00,154.12 L359.30,153.89 L359.60,153.67 L359.90,153.48 L360.20,153.33 L360.50,153.24 L360.80,153.20 L360.80,153.20 L361.10,153.20 L361.40,153.22 L361.70,153.24 L362.00,153.26 L362.30,153.29 L362.60,153.33 L362.90,153.38 L363.20,153.43 L363.50,153.48 L363.80,153.54 L364.10,153.60 L364.40,153.66 L364.70,153.73 L365.00,153.79 L365.30,153.86 L365.60,153.93 L365.90,154.00 L365.90,154.00 L366.20,154.07 L366.50,154.15 L366.80,154.24 L367.10,154.33 L367.40,154.43 L367.70,154.54 L368.00,154.65 L368.30,154.77 L368.60,154.90 L368.90,155.03 L369.20,155.16 L369.50,155.31 L369.80,155.46 L370.10,155.61 L370.40,155.78 L370.70,155.94 L371.00,156.12 L371.30,156.29 L371.60,156.48 L371.90,156.67 L372.20,156.86 L372.50,157.06 L372.80,157.27 L373.10,157.48 L373.40,157.70 L373.70,157.92 L374.00,158.14 L374.30,158.37 L374.60,158.61 L374.90,158.85 L375.20,159.10 L375.50,159.35 L375.80,159.60 L376.10,159.86 L376.40,160.12 L376.70,160.39 L377.00,160.66 L377.30,160.94 L377.60,161.22 L377.90,161.50 L378.00,161.60" fill="none" stroke="#f7931f" stroke-width="1.2" stroke-linejoin="round"/>
<line x1="254.70" y1="171.30" x2="265.90" y2="171.30" stroke="#f9a438" stroke-width="1.6" stroke-opacity="1"/>
<text transform="translate(270.00 174.90) scale(1.0 1.0)" text-anchor="start" font-size="9.500" >GOQDs-6</text>
<path d="M417.50,125.30 L417.80,125.24 L418.10,125.18 L418.40,125.11 L418.70,125.05 L419.00,124.98 L419.30,124.92 L419.60,124.85 L419.90,124.78 L420.20,124.71 L420.50,124.64 L420.80,124.56 L421.10,124.49 L421.40,124.42 L421.70,124.34 L422.00,124.26 L422.30,124.19 L422.60,124.11 L422.90,124.03 L423.00,124.00 L423.20,123.94 L423.50,123.85 L423.80,123.75 L424.10,123.64 L424.40,123.52 L424.70,123.40 L425.00,123.28 L425.30,123.15 L425.60,123.03 L425.90,122.91 L426.20,122.79 L426.50,122.67 L426.80,122.56 L427.10,122.46 L427.40,122.37 L427.70,122.29 L428.00,122.22 L428.30,122.17 L428.60,122.13 L428.90,122.10 L429.10,122.10 L429.20,122.13 L429.50,122.59 L429.80,123.50 L430.10,124.78 L430.40,126.34 L430.70,128.07 L431.00,129.88 L431.30,131.68 L431.60,133.36 L431.90,134.84 L432.20,136.03 L432.40,136.60 L432.50,136.83 L432.80,137.49 L433.10,138.10 L433.40,138.65 L433.70,139.15 L434.00,139.62 L434.30,140.06 L434.60,140.49 L434.90,140.89 L435.20,141.30 L435.50,141.70 L435.50,141.70 L435.80,142.11 L436.10,142.53 L436.40,142.96 L436.70,143.40 L437.00,143.83 L437.30,144.28 L437.60,144.72 L437.90,145.16 L438.20,145.61 L438.50,146.05 L438.80,146.49 L439.10,146.92 L439.40,147.35 L439.70,147.77 L440.00,148.19 L440.30,148.59 L440.60,148.98 L440.90,149.36 L441.20,149.73 L441.50,150.08 L441.80,150.41 L442.10,150.73 L442.40,151.03 L442.70,151.31 L443.00,151.56 L443.30,151.80 L443.60,152.01 L443.90,152.19 L444.20,152.35 L444.50,152.48 L444.80,152.58 L445.10,152.65 L445.40,152.69 L445.60,152.70 L445.70,152.70 L446.00,152.68 L446.30,152.65 L446.60,152.61 L446.90,152.54 L447.20,152.47 L447.50,152.37 L447.80,152.27 L448.10,152.15 L448.40,152.02 L448.70,151.88 L449.00,151.73 L449.30,151.56 L449.60,151.39 L449.90,151.21 L450.20,151.02 L450.50,150.82 L450.80,150.62 L451.10,150.41 L451.40,150.19 L451.70,149.97 L452.00,149.74 L452.30,149.51 L452.60,149.27 L452.90,149.04 L453.20,148.80 L453.50,148.56 L453.80,148.32 L454.10,148.08 L454.40,147.84 L454.70,147.60 L455.00,147.36 L455.30,147.12 L455.60,146.89 L455.90,146.67 L456.20,146.44 L456.50,146.22 L456.80,146.01 L457.10,145.80 L457.40,145.61 L457.70,145.41 L458.00,145.23 L458.30,145.06 L458.40,145.00 L458.60,144.89 L458.90,144.72 L459.20,144.56 L459.50,144.39 L459.80,144.23 L460.10,144.07 L460.40,143.91 L460.70,143.75 L461.00,143.59 L461.30,143.43 L461.60,143.27 L461.90,143.11 L462.20,142.95 L462.50,142.79 L462.80,142.64 L463.10,142.48 L463.40,142.32 L463.70,142.17 L464.00,142.01 L464.30,141.86 L464.60,141.71 L464.90,141.55 L465.20,141.40 L465.50,141.25 L465.80,141.09 L466.10,140.94 L466.40,140.79 L466.70,140.64 L467.00,140.49 L467.30,140.34 L467.60,140.19 L467.90,140.04 L468.20,139.89 L468.50,139.74 L468.80,139.59 L469.10,139.44 L469.40,139.29 L469.70,139.14 L470.00,138.99 L470.30,138.84 L470.60,138.69 L470.90,138.54 L471.20,138.40 L471.50,138.25 L471.80,138.10 L472.10,137.95 L472.40,137.80 L472.70,137.65 L473.00,137.50 L473.30,137.35 L473.60,137.20 L473.90,137.05 L474.20,136.90 L474.50,136.75 L474.80,136.60 L475.10,136.39 L475.40,136.24 L475.70,136.00 L476.00,136.07 L476.20,136.23 L476.30,135.63 L476.60,136.18 L476.90,135.43 L477.20,135.16 L477.50,135.30 L477.80,135.30 L478.10,134.86 L478.40,134.57 L478.70,134.97 L479.00,134.24 L479.30,134.50 L479.60,134.18 L479.90,133.92 L480.20,133.85 L480.50,133.47 L480.80,133.31 L481.10,133.44 L481.40,133.01 L481.70,132.90 L482.00,133.16 L482.30,132.99 L482.60,132.51 L482.90,132.04 L483.20,131.38 L483.50,131.18 L483.80,130.99 L484.10,130.70 L484.40,131.44 L484.70,131.49 L485.00,131.60 L485.30,131.05 L485.60,131.39 L485.90,130.94 L486.20,130.72 L486.40,130.90 L486.50,131.14 L486.80,131.02 L487.10,131.20 L487.40,130.93 L487.70,131.02 L488.00,130.77 L488.30,130.00 L488.60,129.92 L488.90,129.31 L489.20,129.43 L489.50,128.91 L489.80,129.12 L490.10,128.88 L490.40,128.50 L490.70,128.65 L491.00,128.23 L491.30,128.30 L491.60,127.96 L491.90,128.12 L492.20,127.78 L492.50,128.06 L492.80,127.76 L493.10,127.67 L493.40,127.21 L493.70,126.98 L494.00,127.18 L494.30,127.64 L494.60,127.05 L494.90,127.46 L495.20,127.20 L495.30,127.20 L495.50,127.22 L495.80,127.33 L496.10,127.54 L496.40,127.83 L496.70,128.21 L497.00,128.68 L497.30,129.22 L497.60,129.84 L497.80,130.30 L497.90,130.71 L498.20,133.70 L498.50,138.45 L498.80,143.83 L499.10,148.71 L499.40,151.98 L499.60,152.70 L499.70,152.68 L500.00,152.38 L500.30,151.82 L500.60,151.08 L500.90,150.26 L501.20,149.46 L501.50,148.77 L501.80,148.28 L502.10,148.10 L502.10,148.10 L502.40,148.38 L502.70,149.11 L503.00,150.11 L503.30,151.19 L503.60,152.19 L503.90,152.92 L504.20,153.20 L504.20,153.20 L504.50,152.92 L504.80,152.14 L505.10,150.96 L505.40,149.47 L505.70,147.76 L506.00,145.92 L506.30,144.06 L506.60,142.25 L506.90,140.61 L507.20,139.21 L507.50,138.15 L507.80,137.53 L508.00,137.40 L508.10,137.45 L508.40,138.12 L508.70,139.48 L509.00,141.40 L509.30,143.74 L509.60,146.38 L509.90,149.18 L510.20,152.01 L510.50,154.73 L510.80,157.22 L511.10,159.34 L511.40,160.95 L511.70,161.94 L511.80,162.10 L512.00,162.33 L512.30,162.67 L512.60,162.98 L512.90,163.27 L513.20,163.54 L513.50,163.77 L513.80,163.98 L514.10,164.17 L514.40,164.32 L514.70,164.44 L515.00,164.53 L515.30,164.58 L515.60,164.60 L515.60,164.60 L515.90,164.57 L516.20,164.49 L516.50,164.35 L516.80,164.18 L517.10,163.97 L517.40,163.74 L517.70,163.49 L518.00,163.23 L518.30,162.97 L518.60,162.71 L518.90,162.46 L519.20,162.23 L519.50,162.02 L519.80,161.85 L520.10,161.71 L520.40,161.63 L520.70,161.60 L520.70,161.60 L521.00,161.80 L521.30,162.37 L521.60,163.24 L521.90,164.36 L522.20,165.66 L522.50,167.10 L522.80,168.60 L523.10,170.11 L523.40,171.57 L523.70,172.93 L524.00,174.11 L524.30,175.07 L524.60,175.75 L524.90,176.08 L525.00,176.10 L525.20,176.06 L525.50,175.84 L525.80,175.46 L526.10,174.94 L526.40,174.29 L526.70,173.54 L527.00,172.71 L527.30,171.81 L527.60,170.87 L527.90,169.91 L528.20,168.94 L528.50,167.99 L528.80,167.08 L529.10,166.22 L529.40,165.45 L529.70,164.76 L530.00,164.20 L530.30,163.77 L530.60,163.50 L530.90,163.40 L530.90,163.40 L531.20,163.40 L531.50,163.42 L531.80,163.44 L532.10,163.47 L532.40,163.51 L532.70,163.57 L533.00,163.64 L533.30,163.72 L533.60,163.81 L533.90,163.92 L534.20,164.05 L534.50,164.20 L534.80,164.36 L535.10,164.54 L535.40,164.75 L535.70,164.97 L536.00,165.22 L536.30,165.49 L536.60,165.78 L536.90,166.09 L537.20,166.44 L537.50,166.80 L537.80,167.20 L538.10,167.62 L538.40,168.08 L538.70,168.56 L539.00,169.07 L539.30,169.62 L539.60,170.19 L539.90,170.80 L540.20,171.45 L540.50,172.13 L540.80,172.84 L541.10,173.60 L541.40,174.39 L541.70,175.22 L542.00,176.09 L542.30,177.00 L542.60,177.95 L542.90,178.95 L543.20,179.98 L543.50,181.06 L543.80,182.19 L544.10,183.36 L544.40,184.58 L544.50,185.00" fill="none" stroke="#154b7c" stroke-width="1.2" stroke-linejoin="round"/>
<line x1="421.50" y1="171.30" x2="433.40" y2="171.30" stroke="#225a8c" stroke-width="1.3" stroke-opacity="1"/>
<text transform="translate(436.70 174.90) scale(1.0 1.0)" text-anchor="start" font-size="9.500" >GOQDs-8</text>
<rect x="15.30" y="235.80" width="88.80" height="71.70" fill="none" stroke="#404040" stroke-width="1"/>
<line x1="22.70" y1="307.50" x2="22.70" y2="313.50" stroke="#404040" stroke-width="1" stroke-opacity="1"/>
<text transform="translate(22.70 323.40) scale(1.0 1.0)" text-anchor="middle" font-size="9.500" >1000</text>
<line x1="59.70" y1="307.50" x2="59.70" y2="313.50" stroke="#404040" stroke-width="1" stroke-opacity="1"/>
<text transform="translate(59.70 323.40) scale(1.0 1.0)" text-anchor="middle" font-size="9.500" >2000</text>
<line x1="96.70" y1="307.50" x2="96.70" y2="313.50" stroke="#404040" stroke-width="1" stroke-opacity="1"/>
<text transform="translate(96.70 323.40) scale(1.0 1.0)" text-anchor="middle" font-size="9.500" >3000</text>
<line x1="41.20" y1="307.50" x2="41.20" y2="310.70" stroke="#404040" stroke-width="1" stroke-opacity="1"/>
<line x1="78.20" y1="307.50" x2="78.20" y2="310.70" stroke="#404040" stroke-width="1" stroke-opacity="1"/>
<text transform="translate(65.20 335.80) scale(1.0 1.0)" text-anchor="middle" font-size="9.500" >Shift / cm<tspan font-size="5.6" dy="-3.9">−1</tspan></text>
<rect x="120.40" y="235.80" width="88.60" height="71.70" fill="none" stroke="#404040" stroke-width="1"/>
<line x1="127.78" y1="307.50" x2="127.78" y2="313.50" stroke="#404040" stroke-width="1" stroke-opacity="1"/>
<text transform="translate(127.78 323.40) scale(1.0 1.0)" text-anchor="middle" font-size="9.500" >1000</text>
<line x1="164.70" y1="307.50" x2="164.70" y2="313.50" stroke="#404040" stroke-width="1" stroke-opacity="1"/>
<text transform="translate(164.70 323.40) scale(1.0 1.0)" text-anchor="middle" font-size="9.500" >2000</text>
<line x1="201.62" y1="307.50" x2="201.62" y2="313.50" stroke="#404040" stroke-width="1" stroke-opacity="1"/>
<text transform="translate(201.62 323.40) scale(1.0 1.0)" text-anchor="middle" font-size="9.500" >3000</text>
<line x1="146.24" y1="307.50" x2="146.24" y2="310.70" stroke="#404040" stroke-width="1" stroke-opacity="1"/>
<line x1="183.16" y1="307.50" x2="183.16" y2="310.70" stroke="#404040" stroke-width="1" stroke-opacity="1"/>
<text transform="translate(169.50 335.80) scale(1.0 1.0)" text-anchor="middle" font-size="9.500" >Shift / cm<tspan font-size="5.6" dy="-3.9">−1</tspan></text>
<rect x="224.80" y="235.80" width="153.00" height="71.70" fill="none" stroke="#404040" stroke-width="1"/>
<line x1="237.55" y1="307.50" x2="237.55" y2="313.50" stroke="#404040" stroke-width="1" stroke-opacity="1"/>
<text transform="translate(237.55 323.40) scale(1.0 1.0)" text-anchor="middle" font-size="9.500" >1000</text>
<line x1="301.30" y1="307.50" x2="301.30" y2="313.50" stroke="#404040" stroke-width="1" stroke-opacity="1"/>
<text transform="translate(301.30 323.40) scale(1.0 1.0)" text-anchor="middle" font-size="9.500" >2000</text>
<line x1="365.05" y1="307.50" x2="365.05" y2="313.50" stroke="#404040" stroke-width="1" stroke-opacity="1"/>
<text transform="translate(365.05 323.40) scale(1.0 1.0)" text-anchor="middle" font-size="9.500" >3000</text>
<line x1="269.43" y1="307.50" x2="269.43" y2="310.70" stroke="#404040" stroke-width="1" stroke-opacity="1"/>
<line x1="333.18" y1="307.50" x2="333.18" y2="310.70" stroke="#404040" stroke-width="1" stroke-opacity="1"/>
<text transform="translate(306.50 335.80) scale(1.0 1.0)" text-anchor="middle" font-size="9.500" >Shift / cm<tspan font-size="5.6" dy="-3.9">−1</tspan></text>
<rect x="391.00" y="235.80" width="154.00" height="71.70" fill="none" stroke="#404040" stroke-width="1"/>
<line x1="403.83" y1="307.50" x2="403.83" y2="313.50" stroke="#404040" stroke-width="1" stroke-opacity="1"/>
<text transform="translate(403.83 323.40) scale(1.0 1.0)" text-anchor="middle" font-size="9.500" >1000</text>
<line x1="468.00" y1="307.50" x2="468.00" y2="313.50" stroke="#404040" stroke-width="1" stroke-opacity="1"/>
<text transform="translate(468.00 323.40) scale(1.0 1.0)" text-anchor="middle" font-size="9.500" >2000</text>
<line x1="532.17" y1="307.50" x2="532.17" y2="313.50" stroke="#404040" stroke-width="1" stroke-opacity="1"/>
<text transform="translate(532.17 323.40) scale(1.0 1.0)" text-anchor="middle" font-size="9.500" >3000</text>
<line x1="435.92" y1="307.50" x2="435.92" y2="310.70" stroke="#404040" stroke-width="1" stroke-opacity="1"/>
<line x1="500.08" y1="307.50" x2="500.08" y2="310.70" stroke="#404040" stroke-width="1" stroke-opacity="1"/>
<text transform="translate(472.50 335.80) scale(1.0 1.0)" text-anchor="middle" font-size="9.500" >Shift / cm<tspan font-size="5.6" dy="-3.9">−1</tspan></text>
<text transform="translate(12.50 271.80) rotate(-90) scale(1.0 1)" text-anchor="middle" font-size="10">Intensity / a.u.</text>
<text transform="translate(117.60 271.80) rotate(-90) scale(1.0 1)" text-anchor="middle" font-size="10">Intensity / a.u.</text>
<text transform="translate(221.50 271.80) rotate(-90) scale(1.0 1)" text-anchor="middle" font-size="10">Intensity / a.u.</text>
<text transform="translate(388.60 271.80) rotate(-90) scale(1.0 1)" text-anchor="middle" font-size="10">Intensity / a.u.</text>
<text transform="translate(17.90 246.20) scale(1.0 1.0)" text-anchor="start" font-size="9.800" >(i)</text>
<text transform="translate(123.00 246.20) scale(1.0 1.0)" text-anchor="start" font-size="9.800" >(j)</text>
<text transform="translate(227.40 246.20) scale(1.0 1.0)" text-anchor="start" font-size="9.800" >(k)</text>
<text transform="translate(393.60 246.20) scale(1.0 1.0)" text-anchor="start" font-size="9.800" >(l)</text>
<path d="M15.30,304.17 L15.50,304.33 L15.70,304.31 L15.90,304.11 L16.10,304.13 L16.30,304.10 L16.50,304.23 L16.70,304.16 L16.90,304.26 L17.10,303.94 L17.30,304.35 L17.50,304.15 L17.70,304.25 L17.90,304.15 L18.10,304.12 L18.30,304.22 L18.50,304.26 L18.70,304.14 L18.90,304.15 L19.10,304.25 L19.30,304.06 L19.50,303.98 L19.70,304.21 L19.90,304.08 L20.10,303.93 L20.30,304.06 L20.50,304.10 L20.70,304.02 L20.90,303.98 L21.10,304.16 L21.30,304.27 L21.50,304.13 L21.70,304.07 L21.90,304.20 L22.10,304.24 L22.30,304.12 L22.50,304.22 L22.70,304.28 L22.90,304.13 L23.10,304.05 L23.30,304.19 L23.50,304.18 L23.70,304.28 L23.90,303.99 L24.10,304.06 L24.30,304.04 L24.50,303.93 L24.70,304.15 L24.90,304.20 L25.10,304.04 L25.30,304.30 L25.50,304.23 L25.70,304.20 L25.90,304.17 L26.10,304.24 L26.30,303.96 L26.50,304.19 L26.70,304.18 L26.90,303.90 L27.10,304.15 L27.30,304.07 L27.50,304.19 L27.70,304.04 L27.90,304.08 L28.10,304.12 L28.30,303.97 L28.50,304.14 L28.70,304.05 L28.90,304.11 L29.10,303.98 L29.30,304.16 L29.50,304.10 L29.70,303.99 L29.90,304.08 L30.10,304.14 L30.30,304.19 L30.50,303.77 L30.70,304.04 L30.90,303.97 L31.10,303.88 L31.30,303.74 L31.50,303.98 L31.70,303.64 L31.90,303.82 L32.10,303.86 L32.30,303.46 L32.50,303.54 L32.70,303.34 L32.90,303.43 L33.10,303.45 L33.30,303.36 L33.50,302.71 L33.70,302.61 L33.90,302.44 L34.10,302.11 L34.30,301.40 L34.50,300.49 L34.70,299.61 L34.90,298.35 L35.10,297.06 L35.30,296.13 L35.50,296.25 L35.70,297.10 L35.90,298.31 L36.10,299.51 L36.30,300.37 L36.50,301.22 L36.70,301.99 L36.90,302.23 L37.10,302.39 L37.30,302.96 L37.50,303.04 L37.70,303.37 L37.90,303.23 L38.10,303.24 L38.30,303.19 L38.50,303.56 L38.70,303.75 L38.90,303.36 L39.10,303.39 L39.30,303.54 L39.50,303.36 L39.70,303.41 L39.90,303.38 L40.10,303.41 L40.30,303.48 L40.50,303.29 L40.70,303.33 L40.90,303.08 L41.10,303.06 L41.30,302.64 L41.50,302.56 L41.70,302.63 L41.90,302.21 L42.10,302.03 L42.30,301.60 L42.50,301.14 L42.70,300.32 L42.90,299.28 L43.10,297.60 L43.30,295.18 L43.50,291.42 L43.70,285.11 L43.90,274.01 L44.10,256.48 L44.30,240.57 L44.50,247.01 L44.70,266.08 L44.90,280.20 L45.10,288.78 L45.30,293.67 L45.50,296.73 L45.70,298.57 L45.90,299.71 L46.10,300.60 L46.30,301.58 L46.50,301.92 L46.70,302.43 L46.90,302.76 L47.10,302.64 L47.30,302.97 L47.50,303.14 L47.70,303.28 L47.90,303.39 L48.10,303.44 L48.30,303.52 L48.50,303.38 L48.70,303.60 L48.90,303.58 L49.10,303.74 L49.30,303.70 L49.50,303.87 L49.70,303.93 L49.90,303.89 L50.10,303.92 L50.30,303.92 L50.50,303.87 L50.70,303.93 L50.90,303.90 L51.10,304.03 L51.30,304.00 L51.50,304.08 L51.70,303.86 L51.90,304.14 L52.10,303.95 L52.30,303.96 L52.50,304.04 L52.70,304.00 L52.90,304.11 L53.10,304.02 L53.30,303.96 L53.50,304.00 L53.70,304.26 L53.90,304.12 L54.10,303.97 L54.30,304.12 L54.50,303.94 L54.70,304.34 L54.90,303.95 L55.10,304.19 L55.30,304.21 L55.50,303.97 L55.70,304.18 L55.90,304.27 L56.10,304.21 L56.30,304.19 L56.50,304.27 L56.70,304.18 L56.90,304.20 L57.10,304.15 L57.30,304.24 L57.50,304.06 L57.70,304.27 L57.90,304.11 L58.10,304.05 L58.30,304.22 L58.50,304.38 L58.70,304.30 L58.90,304.12 L59.10,304.27 L59.30,304.13 L59.50,304.17 L59.70,304.20 L59.90,303.91 L60.00,304.21 L60.10,304.06 L60.30,304.10 L60.50,304.01 L60.70,304.01 L60.90,304.08 L61.10,304.29 L61.30,304.39 L61.50,304.19 L61.70,304.32 L61.90,304.16 L62.10,303.96 L62.30,304.21 L62.50,304.25 L62.70,304.14 L62.90,304.23 L63.10,304.26 L63.30,304.09 L63.50,304.01 L63.70,304.16 L63.90,304.17 L64.10,304.15 L64.30,304.31 L64.50,304.40 L64.70,304.14 L64.90,304.27 L65.10,304.30 L65.30,304.27 L65.50,304.31 L65.70,304.14 L65.90,304.27 L66.10,304.42 L66.30,304.28 L66.50,304.10 L66.70,304.25 L66.90,304.33 L67.10,304.22 L67.30,304.10 L67.50,304.35 L67.70,304.02 L67.90,304.22 L68.10,304.16 L68.30,304.01 L68.50,304.30 L68.70,304.19 L68.90,304.01 L69.10,304.22 L69.30,304.09 L69.50,303.91 L69.70,304.05 L69.90,304.16 L70.10,304.20 L70.30,304.14 L70.50,304.12 L70.70,304.16 L70.90,304.07 L71.10,304.23 L71.30,304.10 L71.50,304.11 L71.70,304.13 L71.90,303.93 L72.10,303.96 L72.30,304.21 L72.50,304.06 L72.70,303.97 L72.90,304.03 L73.10,303.91 L73.30,303.98 L73.50,303.84 L73.70,303.93 L73.90,303.68 L74.10,303.99 L74.30,303.73 L74.50,303.56 L74.70,303.67 L74.90,303.60 L75.10,303.60 L75.30,303.36 L75.50,303.46 L75.70,303.76 L75.90,303.07 L76.10,303.17 L76.30,303.01 L76.50,303.01 L76.70,302.73 L76.90,302.81 L77.10,303.04 L77.30,303.03 L77.50,303.30 L77.70,303.08 L77.90,303.25 L78.10,303.63 L78.30,303.23 L78.50,303.25 L78.70,303.37 L78.90,303.38 L79.10,303.49 L79.30,303.40 L79.50,303.28 L79.70,303.37 L79.90,303.63 L80.10,303.43 L80.30,302.90 L80.50,303.16 L80.70,303.01 L80.90,303.12 L81.10,302.94 L81.30,303.10 L81.50,302.87 L81.70,302.75 L81.90,302.52 L82.10,302.33 L82.30,302.19 L82.50,302.08 L82.70,301.74 L82.90,301.34 L83.10,301.19 L83.30,300.65 L83.50,300.14 L83.70,299.51 L83.90,298.89 L84.10,298.15 L84.30,297.07 L84.50,296.64 L84.70,295.66 L84.90,294.62 L85.10,293.80 L85.30,292.71 L85.50,291.57 L85.70,289.91 L85.90,288.66 L86.10,287.12 L86.30,285.72 L86.50,284.69 L86.70,284.38 L86.90,284.78 L87.10,286.19 L87.30,288.52 L87.50,290.58 L87.70,292.69 L87.90,294.32 L88.10,295.85 L88.30,296.89 L88.50,298.15 L88.70,298.89 L88.90,299.69 L89.10,300.28 L89.30,300.70 L89.50,301.16 L89.70,301.47 L89.90,301.86 L90.10,302.08 L90.30,302.17 L90.50,302.36 L90.70,302.81 L90.90,302.73 L91.10,302.99 L91.30,303.03 L91.50,303.02 L91.70,303.09 L91.90,303.28 L92.10,303.37 L92.30,303.48 L92.50,303.31 L92.70,303.45 L92.90,303.56 L93.10,303.81 L93.30,303.38 L93.50,303.75 L93.70,303.67 L93.90,303.82 L94.10,303.74 L94.30,303.87 L94.50,304.04 L94.70,303.92 L94.90,303.95 L95.10,303.97 L95.30,303.85 L95.50,304.03 L95.70,303.95 L95.90,303.90 L96.10,304.01 L96.30,304.00 L96.50,304.13 L96.70,304.05 L96.90,304.00 L97.10,304.25 L97.30,304.21 L97.50,304.25 L97.70,304.18 L97.90,304.11 L98.10,304.08 L98.30,304.10 L98.50,304.26 L98.70,304.17 L98.90,303.98 L99.10,304.16 L99.30,304.01 L99.50,304.20 L99.70,304.04 L99.90,304.04 L100.10,304.21 L100.30,304.20 L100.50,304.01 L100.70,304.31 L100.90,304.48 L101.10,304.05 L101.30,304.45 L101.50,304.15 L101.70,304.18 L101.90,304.22 L102.10,304.08 L102.30,304.41 L102.50,304.32 L102.70,304.17 L102.90,304.23 L103.10,304.09 L103.30,304.23 L103.50,304.39 L103.70,304.07 L103.90,304.23 L104.10,304.30 L104.10,304.41" fill="none" stroke="#74acb2" stroke-width="1.1" stroke-linejoin="round"/>
<line x1="51.40" y1="244.80" x2="63.00" y2="244.80" stroke="#a6cbcf" stroke-width="1.6" stroke-opacity="1"/>
<text transform="translate(66.60 248.40) scale(1.0 1.0)" text-anchor="start" font-size="9.500" >Graphite</text>
<path d="M121.00,306.50 L121.50,306.47 L122.00,306.39 L122.50,306.26 L123.00,306.09 L123.50,305.88 L124.00,305.63 L124.50,305.35 L125.00,305.05 L125.50,304.71 L126.00,304.36 L126.50,303.98 L127.00,303.59 L127.50,303.18 L128.00,302.77 L128.50,302.35 L128.80,302.10 L129.00,301.93 L129.50,301.47 L130.00,300.96 L130.50,300.40 L131.00,299.78 L131.50,299.09 L132.00,298.33 L132.50,297.49 L133.00,296.56 L133.50,295.55 L134.00,294.43 L134.10,294.20 L134.50,293.12 L135.00,291.41 L135.50,289.33 L136.00,286.91 L136.50,284.17 L137.00,281.15 L137.50,277.87 L137.70,276.50 L138.00,273.84 L138.50,268.07 L139.00,263.06 L139.10,262.40 L139.50,260.07 L140.00,257.85 L140.30,257.40 L140.50,257.64 L141.00,259.87 L141.50,263.37 L141.60,264.10 L142.00,268.76 L142.50,276.62 L143.00,281.80 L143.50,283.71 L144.00,285.25 L144.50,286.37 L145.00,286.99 L145.30,287.10 L145.50,287.07 L146.00,286.69 L146.50,285.91 L147.00,284.77 L147.40,283.60 L147.50,283.09 L148.00,276.57 L148.50,268.77 L148.60,267.70 L149.00,263.78 L149.50,260.12 L149.70,259.70 L150.00,260.92 L150.50,266.83 L150.90,273.00 L151.00,274.85 L151.50,288.59 L151.80,294.20 L152.00,295.81 L152.50,299.06 L153.00,301.27 L153.50,302.55 L153.60,302.70 L154.00,303.20 L154.50,303.75 L155.00,304.22 L155.50,304.62 L156.00,304.95 L156.50,305.21 L157.00,305.42 L157.50,305.58 L158.00,305.70 L158.50,305.80 L159.00,305.89 L159.50,305.98 L160.00,306.06 L160.50,306.14 L161.00,306.22 L161.50,306.29 L162.00,306.36 L162.50,306.43 L163.00,306.49 L163.50,306.54 L164.00,306.60 L164.50,306.64 L165.00,306.69 L165.50,306.73 L166.00,306.76 L166.50,306.80 L167.00,306.82 L167.50,306.85 L168.00,306.87 L168.50,306.88 L169.00,306.89 L169.50,306.90 L170.00,306.90 L170.50,306.90 L171.00,306.89 L171.50,306.87 L172.00,306.85 L172.50,306.82 L173.00,306.79 L173.50,306.76 L174.00,306.72 L174.20,306.70 L174.50,306.66 L175.00,306.55 L175.50,306.38 L176.00,306.17 L176.50,305.93 L177.00,305.68 L177.50,305.43 L178.00,305.18 L178.50,304.96 L178.90,304.80 L179.00,304.76 L179.50,304.59 L180.00,304.44 L180.50,304.28 L181.00,304.14 L181.50,303.99 L182.00,303.85 L182.50,303.70 L183.00,303.55 L183.50,303.39 L184.00,303.22 L184.50,303.04 L184.60,303.00 L185.00,302.83 L185.50,302.57 L186.00,302.28 L186.50,301.96 L187.00,301.64 L187.50,301.32 L188.00,301.02 L188.50,300.76 L189.00,300.54 L189.50,300.39 L190.00,300.31 L190.20,300.30 L190.50,300.32 L191.00,300.41 L191.50,300.57 L192.00,300.76 L192.50,300.96 L193.00,301.13 L193.50,301.25 L194.00,301.30 L194.50,301.28 L195.00,301.23 L195.50,301.16 L196.00,301.08 L196.50,301.01 L197.00,300.95 L197.50,300.91 L197.80,300.90 L198.00,300.91 L198.50,301.00 L199.00,301.18 L199.50,301.41 L200.00,301.67 L200.50,301.95 L200.60,302.00 L201.00,302.27 L201.50,302.72 L202.00,303.24 L202.50,303.74 L203.00,304.15 L203.50,304.40 L204.00,304.54 L204.50,304.67 L205.00,304.79 L205.50,304.90 L206.00,305.00 L206.50,305.09 L207.00,305.16 L207.50,305.22 L208.00,305.26 L208.50,305.29 L209.00,305.30 L209.10,305.30" fill="none" stroke="#2eb4cb" stroke-width="1.3" stroke-linejoin="round"/>
<line x1="168.00" y1="244.30" x2="179.60" y2="244.30" stroke="#2eb4cb" stroke-width="1.5" stroke-opacity="1"/>
<text transform="translate(183.20 247.90) scale(1.0 1.0)" text-anchor="start" font-size="9.500" >GO</text>
<path d="M224.80,305.20 L225.30,305.05 L225.80,304.90 L226.30,304.74 L226.80,304.57 L227.30,304.41 L227.80,304.23 L228.30,304.06 L228.80,303.88 L229.30,303.69 L229.80,303.50 L230.30,303.31 L230.80,303.11 L231.30,302.91 L231.80,302.71 L232.30,302.50 L232.80,302.29 L233.30,302.08 L233.80,301.87 L234.30,301.65 L234.80,301.44 L235.30,301.22 L235.80,300.99 L236.30,300.76 L236.80,300.53 L237.30,300.29 L237.80,300.03 L238.30,299.78 L238.80,299.51 L239.30,299.23 L239.80,298.94 L240.30,298.64 L240.80,298.33 L241.30,298.01 L241.80,297.67 L241.90,297.60 L242.30,297.32 L242.80,296.95 L243.30,296.57 L243.80,296.16 L244.30,295.73 L244.80,295.27 L245.30,294.77 L245.80,294.24 L246.30,293.68 L246.80,293.06 L247.30,292.41 L247.80,291.70 L248.00,291.40 L248.30,290.92 L248.80,290.01 L249.30,288.97 L249.80,287.79 L250.30,286.49 L250.80,285.06 L251.30,283.51 L251.80,281.85 L252.30,280.08 L252.80,278.20 L253.30,276.02 L253.80,273.40 L254.30,270.44 L254.80,267.23 L255.30,263.87 L255.50,262.50 L255.80,260.18 L256.30,255.54 L256.80,250.78 L257.30,246.85 L257.60,245.30 L257.80,244.53 L258.30,242.72 L258.80,241.25 L259.30,240.36 L259.60,240.20 L259.80,240.41 L260.30,242.39 L260.80,245.50 L261.10,247.40 L261.30,248.73 L261.80,252.96 L262.30,257.74 L262.80,262.18 L263.20,264.90 L263.30,265.44 L263.80,268.08 L264.30,270.49 L264.80,272.57 L265.30,274.18 L265.80,275.20 L266.30,275.86 L266.80,276.44 L267.30,276.89 L267.80,277.19 L268.30,277.30 L268.80,277.17 L269.30,276.81 L269.80,276.24 L270.30,275.50 L270.80,274.60 L271.00,274.20 L271.30,273.21 L271.80,270.20 L272.30,266.19 L272.80,261.98 L273.10,259.70 L273.30,258.15 L273.80,253.56 L274.30,249.02 L274.80,245.91 L275.10,245.30 L275.30,245.63 L275.80,248.77 L276.30,253.99 L276.80,259.70 L277.30,267.07 L277.80,275.56 L278.20,280.40 L278.30,281.19 L278.80,284.88 L279.30,288.15 L279.80,290.92 L280.30,293.16 L280.80,294.81 L281.30,295.80 L281.80,296.41 L282.30,296.94 L282.80,297.40 L283.30,297.80 L283.80,298.15 L284.30,298.46 L284.80,298.73 L285.30,298.98 L285.80,299.21 L286.30,299.44 L286.80,299.66 L287.30,299.90 L287.50,300.00 L287.80,300.15 L288.30,300.40 L288.80,300.64 L289.30,300.87 L289.80,301.10 L290.30,301.33 L290.80,301.54 L291.30,301.76 L291.80,301.96 L292.30,302.16 L292.80,302.36 L293.30,302.55 L293.80,302.74 L294.30,302.92 L294.80,303.09 L295.30,303.26 L295.80,303.43 L296.30,303.59 L296.80,303.74 L297.30,303.90 L297.80,304.04 L298.00,304.10 L298.30,304.19 L298.80,304.33 L299.30,304.48 L299.80,304.63 L300.30,304.78 L300.80,304.93 L301.30,305.08 L301.80,305.23 L302.30,305.38 L302.80,305.53 L303.30,305.67 L303.80,305.82 L304.30,305.95 L304.80,306.09 L305.30,306.21 L305.80,306.33 L306.30,306.45 L306.80,306.56 L307.30,306.66 L307.80,306.75 L308.30,306.83 L308.80,306.90 L309.30,306.96 L309.80,307.02 L310.30,307.06 L310.80,307.08 L311.30,307.10 L311.60,307.10 L311.80,307.10 L312.30,307.09 L312.80,307.08 L313.30,307.05 L313.80,307.02 L314.30,306.99 L314.80,306.95 L315.30,306.90 L315.80,306.85 L316.30,306.80 L316.80,306.74 L317.30,306.69 L317.80,306.63 L318.30,306.57 L318.80,306.51 L318.90,306.50 L319.30,306.45 L319.80,306.39 L320.30,306.32 L320.80,306.25 L321.30,306.17 L321.80,306.09 L322.30,306.00 L322.80,305.91 L323.30,305.82 L323.80,305.72 L324.30,305.62 L324.80,305.51 L325.30,305.40 L325.80,305.29 L326.30,305.17 L326.80,305.05 L327.30,304.93 L327.80,304.80 L328.30,304.67 L328.80,304.54 L329.30,304.41 L329.80,304.27 L330.30,304.13 L330.80,303.99 L331.30,303.85 L331.80,303.71 L332.30,303.56 L332.80,303.41 L333.30,303.26 L333.50,303.20 L333.80,303.10 L334.30,302.92 L334.80,302.72 L335.30,302.49 L335.80,302.25 L336.30,301.99 L336.80,301.73 L337.30,301.47 L337.80,301.20 L338.30,300.94 L338.80,300.69 L339.30,300.45 L339.80,300.22 L340.30,300.02 L340.80,299.84 L341.30,299.69 L341.80,299.57 L342.20,299.50 L342.30,299.49 L342.80,299.42 L343.30,299.35 L343.80,299.29 L344.30,299.23 L344.80,299.18 L345.30,299.14 L345.80,299.11 L346.30,299.10 L346.50,299.10 L346.80,299.10 L347.30,299.13 L347.80,299.18 L348.30,299.24 L348.80,299.31 L349.30,299.40 L349.80,299.49 L350.30,299.58 L350.80,299.67 L351.30,299.76 L351.80,299.83 L352.30,299.90 L352.80,299.95 L353.30,299.99 L353.80,300.00 L354.30,299.99 L354.80,299.94 L355.30,299.88 L355.80,299.81 L356.30,299.72 L356.80,299.63 L357.30,299.54 L357.80,299.46 L358.30,299.39 L358.80,299.34 L359.30,299.31 L359.60,299.30 L359.80,299.31 L360.30,299.37 L360.80,299.50 L361.30,299.68 L361.80,299.89 L362.30,300.14 L362.80,300.39 L363.30,300.65 L363.80,300.90 L364.00,301.00 L364.30,301.15 L364.80,301.44 L365.30,301.77 L365.80,302.12 L366.30,302.48 L366.80,302.81 L367.30,303.12 L367.80,303.38 L368.30,303.57 L368.40,303.60 L368.80,303.71 L369.30,303.84 L369.80,303.97 L370.30,304.10 L370.80,304.22 L371.30,304.33 L371.80,304.44 L372.30,304.54 L372.80,304.64 L373.30,304.72 L373.80,304.80 L374.30,304.88 L374.80,304.94 L375.30,304.99 L375.80,305.03 L376.30,305.07 L376.80,305.09 L377.30,305.10 L377.50,305.10" fill="none" stroke="#f7931f" stroke-width="1.3" stroke-linejoin="round"/>
<line x1="311.30" y1="243.90" x2="323.10" y2="243.90" stroke="#f9a438" stroke-width="1.6" stroke-opacity="1"/>
<text transform="translate(326.00 247.50) scale(1.0 1.0)" text-anchor="start" font-size="9.500" >GOQDs-6</text>
<path d="M391.00,306.00 L391.60,306.08 L392.20,305.88 L392.80,305.65 L393.40,305.72 L394.00,305.48 L394.60,305.70 L395.20,305.98 L395.80,305.30 L396.40,305.12 L397.00,305.30 L397.60,305.10 L398.20,304.84 L398.80,304.34 L399.40,304.40 L400.00,304.40 L400.60,303.56 L401.20,303.59 L401.80,302.91 L402.40,302.83 L403.00,302.40 L403.60,302.61 L404.20,302.01 L404.80,302.18 L405.00,302.05 L405.40,301.71 L406.00,300.56 L406.60,300.59 L407.20,300.08 L407.80,299.40 L408.40,298.12 L409.00,297.62 L409.60,296.64 L410.20,295.87 L410.80,295.63 L411.20,294.56 L411.40,294.55 L412.00,294.13 L412.60,293.04 L413.20,292.56 L413.80,291.99 L414.40,291.30 L415.00,290.19 L415.60,289.76 L416.20,289.21 L416.80,287.27 L417.40,286.76 L417.40,286.54 L418.00,284.54 L418.60,282.86 L419.20,279.56 L419.80,275.84 L419.80,276.22 L420.40,272.82 L421.00,268.46 L421.60,264.31 L422.20,259.74 L422.50,257.90 L422.80,255.95 L423.40,250.30 L424.00,245.58 L424.60,241.58 L425.20,240.24 L425.20,239.84 L425.80,241.53 L426.40,245.47 L427.00,250.88 L427.60,256.24 L428.10,259.30 L428.20,260.14 L428.80,265.04 L429.40,268.93 L430.00,273.57 L430.60,276.66 L430.80,277.68 L431.20,278.47 L431.80,279.45 L432.40,280.46 L433.00,281.14 L433.50,281.86 L433.60,281.27 L434.20,281.09 L434.80,280.81 L435.40,279.97 L435.90,279.24 L436.00,278.79 L436.60,277.13 L437.20,273.77 L437.80,270.33 L438.40,266.10 L438.40,265.89 L439.00,260.70 L439.60,253.46 L440.20,247.33 L440.80,242.81 L441.10,242.38 L441.40,242.48 L442.00,247.44 L442.60,253.54 L443.10,259.09 L443.20,260.70 L443.80,268.88 L444.40,278.38 L445.00,285.91 L445.20,286.25 L445.60,288.06 L446.20,290.55 L446.80,292.43 L447.40,293.57 L448.00,294.46 L448.30,295.01 L448.60,295.17 L449.20,295.09 L449.80,295.70 L450.40,296.02 L451.00,295.93 L451.60,296.53 L452.20,296.38 L452.80,297.09 L453.40,297.01 L454.00,297.13 L454.60,297.09 L455.20,297.40 L455.80,297.03 L456.40,297.52 L456.50,298.01 L457.00,297.50 L457.60,298.73 L458.20,298.31 L458.80,299.41 L459.40,299.23 L460.00,299.93 L460.60,299.84 L460.70,299.34 L461.20,300.17 L461.80,300.23 L462.40,299.78 L463.00,299.72 L463.60,299.75 L464.20,299.51 L464.80,300.13 L464.80,299.64 L465.40,299.81 L466.00,299.65 L466.60,299.80 L467.20,299.74 L467.80,300.65 L468.40,300.41 L469.00,300.94 L469.60,300.85 L470.20,300.85 L470.80,301.17 L471.20,301.23 L471.40,301.47 L472.00,301.59 L472.60,301.88 L473.20,301.85 L473.80,302.33 L474.40,303.39 L475.00,303.03 L475.60,303.25 L476.20,303.99 L476.80,304.63 L477.40,304.07 L477.60,304.54 L478.00,304.60 L478.60,304.58 L479.20,305.67 L479.80,305.79 L480.40,306.14 L481.00,306.20 L481.60,306.81 L482.20,306.70 L482.80,306.93 L483.20,306.67 L483.40,306.62 L484.00,307.22 L484.60,306.34 L485.20,306.14 L485.80,305.53 L486.40,304.87 L487.00,304.34 L487.60,304.23 L488.00,303.71 L488.20,303.65 L488.80,303.41 L489.40,303.47 L490.00,303.06 L490.60,302.72 L491.20,302.19 L491.80,301.71 L492.40,302.17 L493.00,301.93 L493.60,301.36 L493.60,301.56 L494.20,301.39 L494.80,301.18 L495.40,300.99 L496.00,300.37 L496.60,300.75 L497.20,299.71 L497.80,300.13 L498.40,299.80 L499.00,299.68 L499.60,299.73 L500.20,299.35 L500.80,298.28 L501.40,297.80 L501.60,298.45 L502.00,297.65 L502.60,297.53 L503.20,297.30 L503.80,296.02 L504.40,295.33 L505.00,295.49 L505.60,294.88 L506.20,294.28 L506.40,294.21 L506.80,293.61 L507.40,292.87 L508.00,292.69 L508.60,291.87 L509.20,291.15 L509.80,291.35 L510.40,290.85 L511.00,290.83 L511.20,290.40 L511.60,290.54 L512.20,290.62 L512.80,290.94 L513.40,291.64 L514.00,291.75 L514.60,292.49 L515.20,292.85 L515.80,293.64 L516.00,292.68 L516.40,293.49 L517.00,293.39 L517.60,293.60 L518.20,293.35 L518.80,293.80 L519.40,294.29 L520.00,294.13 L520.60,294.22 L520.80,294.11 L521.20,294.54 L521.80,294.16 L522.40,293.46 L523.00,293.86 L523.60,293.42 L524.20,292.99 L524.80,293.76 L525.40,294.30 L525.60,293.91 L526.00,293.59 L526.60,293.86 L527.20,294.82 L527.80,294.97 L528.40,295.47 L529.00,296.02 L529.60,296.64 L530.20,297.45 L530.40,297.57 L530.80,297.89 L531.40,298.31 L532.00,299.71 L532.60,300.36 L533.20,301.92 L533.80,302.17 L534.40,303.36 L535.00,304.07 L535.60,304.09 L536.00,305.12 L536.20,305.05 L536.80,304.52 L537.40,304.92 L538.00,304.82 L538.60,303.94 L539.20,304.81 L539.80,304.73 L540.40,304.78 L541.00,304.45 L541.60,304.72 L542.20,304.77 L542.80,305.22 L543.20,305.00 L543.40,304.93 L544.00,305.61 L544.60,305.31 L545.00,305.58" fill="none" stroke="#154b7c" stroke-width="1.3" stroke-linejoin="round"/>
<line x1="484.70" y1="243.90" x2="496.50" y2="243.90" stroke="#225a8c" stroke-width="1.3" stroke-opacity="1"/>
<text transform="translate(499.40 247.50) scale(1.0 1.0)" text-anchor="start" font-size="9.500" >GOQDs-8</text>
</svg></body></html>
